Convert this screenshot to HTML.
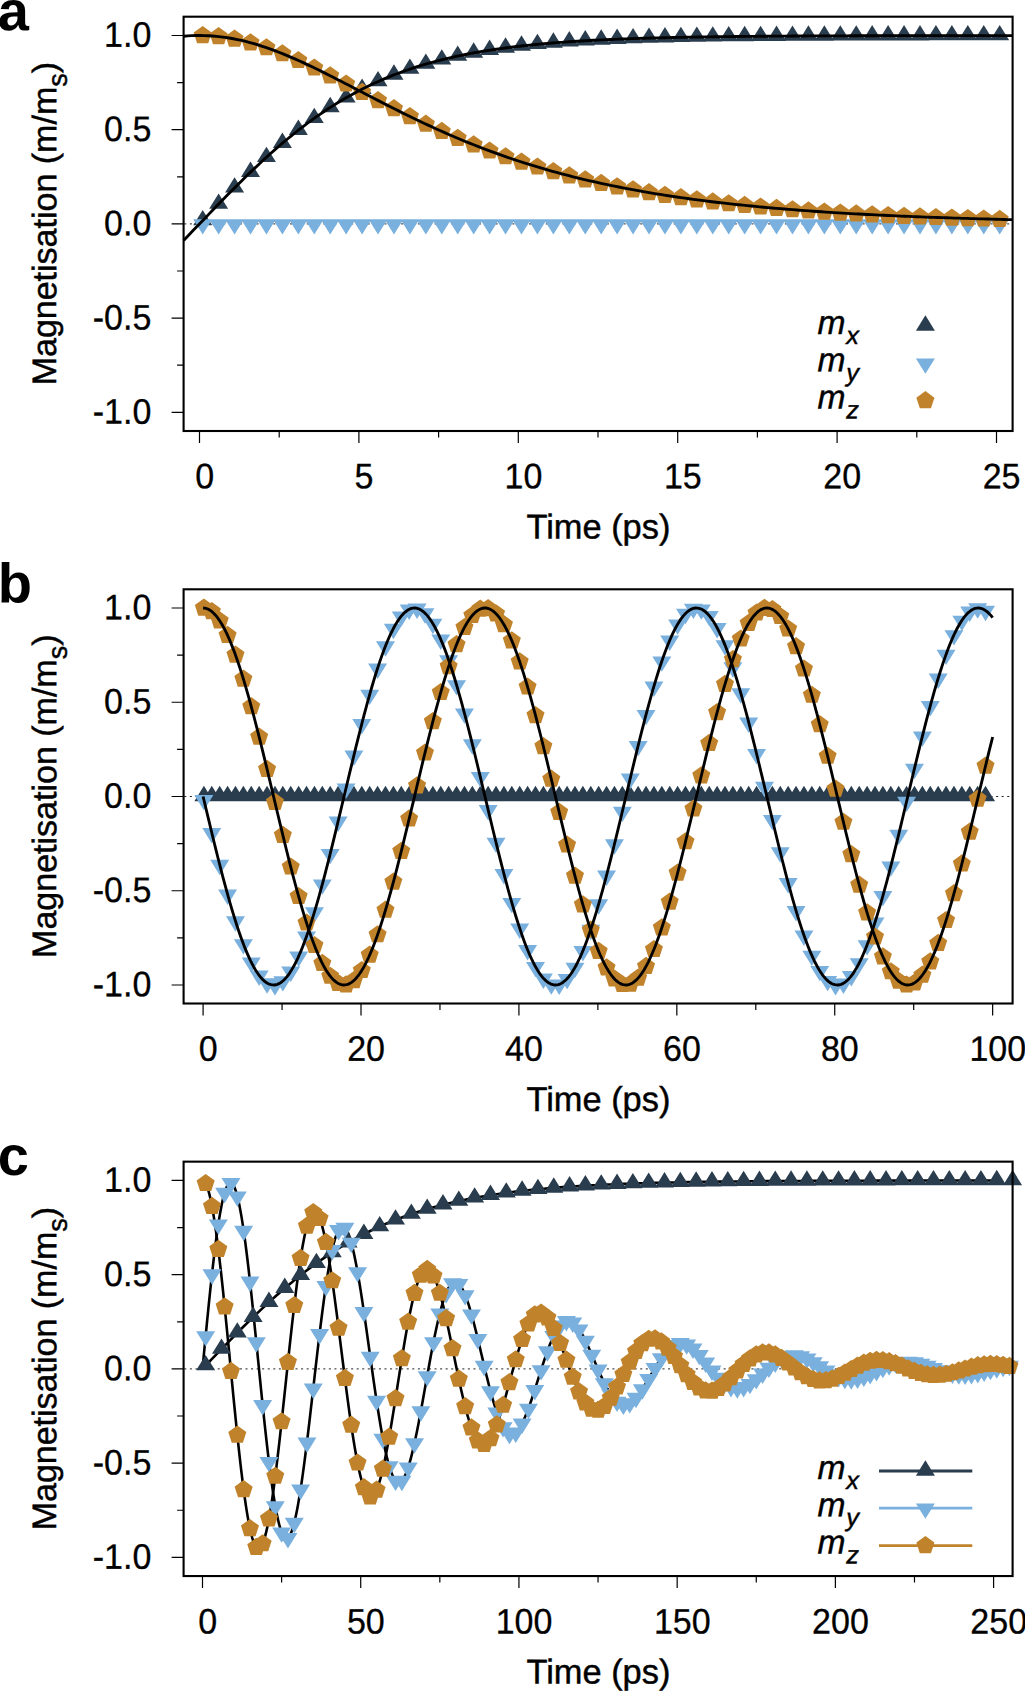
<!DOCTYPE html>
<html><head><meta charset="utf-8"><title>Magnetisation dynamics</title>
<style>html,body{margin:0;padding:0;background:#fff}svg{display:block;text-rendering:geometricPrecision;font-family:"Liberation Sans",Arial,Helvetica,sans-serif;font-size:34.4px;fill:#000;stroke:#000;stroke-width:0.45px}</style>
</head><body>
<svg width="1025" height="1691" viewBox="0 0 1025 1691">
<rect width="1025" height="1691" fill="#fff" stroke="none"/>
<g>
<path d="M1012.6 223.9H183.6" stroke="#222" stroke-width="1" stroke-dasharray="2.05 3.51" stroke-dashoffset="2.2" fill="none"/>
<path d="M202.69 209.94l-9.5 15.39h19zM218.63 193.44l-9.5 15.39h19zM234.57 177.23l-9.5 15.39h19zM250.51 161.57l-9.5 15.39h19zM266.45 146.63l-9.5 15.39h19zM282.39 132.6l-9.5 15.39h19zM298.33 119.58l-9.5 15.39h19zM314.27 107.66l-9.5 15.39h19zM330.21 96.85l-9.5 15.39h19zM346.15 87.15l-9.5 15.39h19zM362.09 78.53l-9.5 15.39h19zM378.03 70.93l-9.5 15.39h19zM393.97 64.27l-9.5 15.39h19zM409.91 58.48l-9.5 15.39h19zM425.85 53.46l-9.5 15.39h19zM441.79 49.15l-9.5 15.39h19zM457.73 45.44l-9.5 15.39h19zM473.67 42.27l-9.5 15.39h19zM489.61 39.57l-9.5 15.39h19zM505.55 37.28l-9.5 15.39h19zM521.49 35.33l-9.5 15.39h19zM537.43 33.68l-9.5 15.39h19zM553.37 32.28l-9.5 15.39h19zM569.31 31.11l-9.5 15.39h19zM585.25 30.11l-9.5 15.39h19zM601.19 29.27l-9.5 15.39h19zM617.13 28.57l-9.5 15.39h19zM633.07 27.97l-9.5 15.39h19zM649.01 27.48l-9.5 15.39h19zM664.95 27.06l-9.5 15.39h19zM680.89 26.7l-9.5 15.39h19zM696.83 26.41l-9.5 15.39h19zM712.77 26.16l-9.5 15.39h19zM728.71 25.95l-9.5 15.39h19zM744.65 25.77l-9.5 15.39h19zM760.59 25.63l-9.5 15.39h19zM776.53 25.5l-9.5 15.39h19zM792.47 25.4l-9.5 15.39h19zM808.41 25.31l-9.5 15.39h19zM824.35 25.24l-9.5 15.39h19zM840.29 25.18l-9.5 15.39h19zM856.23 25.13l-9.5 15.39h19zM872.17 25.08l-9.5 15.39h19zM888.11 25.05l-9.5 15.39h19zM904.05 25.02l-9.5 15.39h19zM919.99 24.99l-9.5 15.39h19zM935.93 24.97l-9.5 15.39h19zM951.87 24.95l-9.5 15.39h19zM967.81 24.94l-9.5 15.39h19zM983.75 24.93l-9.5 15.39h19zM999.69 24.91l-9.5 15.39h19z" fill="#2a3d4e" stroke="none"/>
<path d="M202.69 234.54l-9.5 -15.39h19zM218.63 234.54l-9.5 -15.39h19zM234.57 234.54l-9.5 -15.39h19zM250.51 234.54l-9.5 -15.39h19zM266.45 234.54l-9.5 -15.39h19zM282.39 234.54l-9.5 -15.39h19zM298.33 234.54l-9.5 -15.39h19zM314.27 234.54l-9.5 -15.39h19zM330.21 234.54l-9.5 -15.39h19zM346.15 234.54l-9.5 -15.39h19zM362.09 234.54l-9.5 -15.39h19zM378.03 234.54l-9.5 -15.39h19zM393.97 234.54l-9.5 -15.39h19zM409.91 234.54l-9.5 -15.39h19zM425.85 234.54l-9.5 -15.39h19zM441.79 234.54l-9.5 -15.39h19zM457.73 234.54l-9.5 -15.39h19zM473.67 234.54l-9.5 -15.39h19zM489.61 234.54l-9.5 -15.39h19zM505.55 234.54l-9.5 -15.39h19zM521.49 234.54l-9.5 -15.39h19zM537.43 234.54l-9.5 -15.39h19zM553.37 234.54l-9.5 -15.39h19zM569.31 234.54l-9.5 -15.39h19zM585.25 234.54l-9.5 -15.39h19zM601.19 234.54l-9.5 -15.39h19zM617.13 234.54l-9.5 -15.39h19zM633.07 234.54l-9.5 -15.39h19zM649.01 234.54l-9.5 -15.39h19zM664.95 234.54l-9.5 -15.39h19zM680.89 234.54l-9.5 -15.39h19zM696.83 234.54l-9.5 -15.39h19zM712.77 234.54l-9.5 -15.39h19zM728.71 234.54l-9.5 -15.39h19zM744.65 234.54l-9.5 -15.39h19zM760.59 234.54l-9.5 -15.39h19zM776.53 234.54l-9.5 -15.39h19zM792.47 234.54l-9.5 -15.39h19zM808.41 234.54l-9.5 -15.39h19zM824.35 234.54l-9.5 -15.39h19zM840.29 234.54l-9.5 -15.39h19zM856.23 234.54l-9.5 -15.39h19zM872.17 234.54l-9.5 -15.39h19zM888.11 234.54l-9.5 -15.39h19zM904.05 234.54l-9.5 -15.39h19zM919.99 234.54l-9.5 -15.39h19zM935.93 234.54l-9.5 -15.39h19zM951.87 234.54l-9.5 -15.39h19zM967.81 234.54l-9.5 -15.39h19zM983.75 234.54l-9.5 -15.39h19zM999.69 234.54l-9.5 -15.39h19z" fill="#7ab0de" stroke="none"/>
<path d="M202.69 26.03L211.72 32.59L208.27 43.21L197.1 43.21L193.65 32.59zM218.63 27.05L227.66 33.61L224.21 44.23L213.04 44.23L209.59 33.61zM234.57 29.48L243.6 36.04L240.15 46.66L228.98 46.66L225.53 36.04zM250.51 33.23L259.54 39.8L256.09 50.42L244.92 50.42L241.47 39.8zM266.45 38.17L275.48 44.74L272.03 55.36L260.86 55.36L257.41 44.74zM282.39 44.14L291.42 50.7L287.97 61.33L276.8 61.33L273.35 50.7zM298.33 50.94L307.36 57.5L303.91 68.12L292.74 68.12L289.29 57.5zM314.27 58.38L323.3 64.94L319.85 75.56L308.68 75.56L305.23 64.94zM330.21 66.27L339.24 72.83L335.79 83.45L324.62 83.45L321.17 72.83zM346.15 74.43L355.18 81L351.73 91.62L340.56 91.62L337.11 81zM362.09 82.71L371.12 89.27L367.67 99.9L356.5 99.9L353.05 89.27zM378.03 90.97L387.06 97.53L383.61 108.15L372.44 108.15L368.99 97.53zM393.97 99.09L403 105.65L399.55 116.27L388.38 116.27L384.93 105.65zM409.91 106.99L418.94 113.55L415.49 124.17L404.32 124.17L400.87 113.55zM425.85 114.6L434.88 121.16L431.43 131.79L420.26 131.79L416.81 121.16zM441.79 121.87L450.82 128.44L447.37 139.06L436.2 139.06L432.75 128.44zM457.73 128.78L466.76 135.34L463.31 145.96L452.14 145.96L448.69 135.34zM473.67 135.29L482.7 141.86L479.25 152.48L468.08 152.48L464.63 141.86zM489.61 141.41L498.64 147.98L495.19 158.6L484.02 158.6L480.57 147.98zM505.55 147.14L514.58 153.7L511.13 164.32L499.96 164.32L496.51 153.7zM521.49 152.47L530.52 159.04L527.07 169.66L515.9 169.66L512.45 159.04zM537.43 157.44L546.46 164L543.01 174.62L531.84 174.62L528.39 164zM553.37 162.04L562.4 168.6L558.95 179.22L547.78 179.22L544.33 168.6zM569.31 166.29L578.34 172.86L574.89 183.48L563.72 183.48L560.27 172.86zM585.25 170.23L594.28 176.79L590.83 187.41L579.66 187.41L576.21 176.79zM601.19 173.86L610.22 180.42L606.77 191.04L595.6 191.04L592.15 180.42zM617.13 177.2L626.16 183.77L622.71 194.39L611.54 194.39L608.09 183.77zM633.07 180.28L642.1 186.85L638.65 197.47L627.48 197.47L624.03 186.85zM649.01 183.11L658.04 189.68L654.59 200.3L643.42 200.3L639.97 189.68zM664.95 185.72L673.98 192.28L670.53 202.9L659.36 202.9L655.91 192.28zM680.89 188.11L689.92 194.67L686.47 205.3L675.3 205.3L671.85 194.67zM696.83 190.31L705.86 196.87L702.41 207.49L691.24 207.49L687.79 196.87zM712.77 192.32L721.8 198.88L718.35 209.51L707.18 209.51L703.73 198.88zM728.71 194.17L737.74 200.73L734.29 211.35L723.12 211.35L719.67 200.73zM744.65 195.86L753.68 202.43L750.23 213.05L739.06 213.05L735.61 202.43zM760.59 197.42L769.62 203.98L766.17 214.6L755 214.6L751.55 203.98zM776.53 198.84L785.56 205.41L782.11 216.03L770.94 216.03L767.49 205.41zM792.47 200.15L801.5 206.72L798.05 217.34L786.88 217.34L783.43 206.72zM808.41 201.35L817.44 207.91L813.99 218.53L802.82 218.53L799.37 207.91zM824.35 202.45L833.38 209.01L829.93 219.63L818.76 219.63L815.31 209.01zM840.29 203.45L849.32 210.02L845.87 220.64L834.7 220.64L831.25 210.02zM856.23 204.37L865.26 210.94L861.81 221.56L850.64 221.56L847.19 210.94zM872.17 205.22L881.2 211.78L877.75 222.4L866.58 222.4L863.13 211.78zM888.11 205.99L897.14 212.55L893.69 223.17L882.52 223.17L879.07 212.55zM904.05 206.7L913.08 213.26L909.63 223.88L898.46 223.88L895.01 213.26zM919.99 207.34L929.02 213.91L925.57 224.53L914.4 224.53L910.95 213.91zM935.93 207.94L944.96 214.5L941.51 225.12L930.34 225.12L926.89 214.5zM951.87 208.48L960.9 215.05L957.45 225.67L946.28 225.67L942.83 215.05zM967.81 208.98L976.84 215.55L973.39 226.17L962.22 226.17L958.77 215.55zM983.75 209.44L992.78 216L989.33 226.62L978.16 226.62L974.71 216zM999.69 209.86L1008.72 216.42L1005.27 227.04L994.1 227.04L990.65 216.42z" fill="#c0832b" stroke="none"/>
<path d="M183.56 240.44L187.7 236.15L191.85 231.85L195.99 227.55L200.14 223.24L204.28 218.93L208.43 214.62L212.57 210.33L216.72 206.05L220.86 201.79L225 197.55L229.15 193.34L233.29 189.15L237.44 185.01L241.58 180.9L245.73 176.84L249.87 172.82L254.01 168.85L258.16 164.94L262.3 161.08L266.45 157.27L270.59 153.53L274.74 149.86L278.88 146.24L283.03 142.7L287.17 139.23L291.31 135.82L295.46 132.49L299.6 129.23L303.75 126.04L307.89 122.93L312.04 119.9L316.18 116.94L320.33 114.06L324.47 111.25L328.61 108.52L332.76 105.86L336.9 103.28L341.05 100.77L345.19 98.34L349.34 95.98L353.48 93.69L357.62 91.48L361.77 89.33L365.91 87.26L370.06 85.25L374.2 83.3L378.35 81.43L382.49 79.61L386.64 77.86L390.78 76.17L394.92 74.54L399.07 72.97L403.21 71.45L407.36 69.99L411.5 68.58L415.65 67.23L419.79 65.92L423.94 64.67L428.08 63.46L432.22 62.3L436.37 61.18L440.51 60.11L444.66 59.08L448.8 58.08L452.95 57.13L457.09 56.22L461.23 55.34L465.38 54.5L469.52 53.69L473.67 52.91L477.81 52.17L481.96 51.45L486.1 50.77L490.25 50.11L494.39 49.48L498.53 48.88L502.68 48.3L506.82 47.75L510.97 47.22L515.11 46.71L519.26 46.22L523.4 45.76L527.55 45.31L531.69 44.88L535.83 44.47L539.98 44.08L544.12 43.7L548.27 43.34L552.41 43L556.56 42.67L560.7 42.36L564.84 42.06L568.99 41.77L573.13 41.49L577.28 41.23L581.42 40.97L585.57 40.73L589.71 40.5L593.86 40.28L598 40.07L602.14 39.87L606.29 39.67L610.43 39.49L614.58 39.31L618.72 39.14L622.87 38.98L627.01 38.83L631.16 38.68L635.3 38.54L639.44 38.4L643.59 38.28L647.73 38.15L651.88 38.03L656.02 37.92L660.17 37.81L664.31 37.71L668.45 37.61L672.6 37.52L676.74 37.43L680.89 37.34L685.03 37.26L689.18 37.18L693.32 37.11L697.47 37.04L701.61 36.97L705.75 36.9L709.9 36.84L714.04 36.78L718.19 36.72L722.33 36.67L726.48 36.62L730.62 36.57L734.77 36.52L738.91 36.47L743.05 36.43L747.2 36.39L751.34 36.35L755.49 36.31L759.63 36.27L763.78 36.24L767.92 36.21L772.06 36.18L776.21 36.15L780.35 36.12L784.5 36.09L788.64 36.06L792.79 36.04L796.93 36.01L801.08 35.99L805.22 35.97L809.36 35.95L813.51 35.93L817.65 35.91L821.8 35.89L825.94 35.87L830.09 35.86L834.23 35.84L838.38 35.83L842.52 35.81L846.66 35.8L850.81 35.78L854.95 35.77L859.1 35.76L863.24 35.75L867.39 35.74L871.53 35.73L875.67 35.72L879.82 35.71L883.96 35.7L888.11 35.69L892.25 35.68L896.4 35.67L900.54 35.66L904.69 35.66L908.83 35.65L912.97 35.64L917.12 35.64L921.26 35.63L925.41 35.62L929.55 35.62L933.7 35.61L937.84 35.61L941.99 35.6L946.13 35.6L950.27 35.59L954.42 35.59L958.56 35.59L962.71 35.58L966.85 35.58L971 35.58L975.14 35.57L979.28 35.57L983.43 35.57L987.57 35.56L991.72 35.56L995.86 35.56L1000.01 35.55L1004.15 35.55L1008.3 35.55L1012.44 35.55" fill="none" stroke="#000" stroke-width="2.85" stroke-linejoin="round"/>
<path d="M183.56 36.23L187.7 35.9L191.85 35.67L195.99 35.54L200.14 35.5L204.28 35.57L208.43 35.73L212.57 35.99L216.72 36.35L220.86 36.8L225 37.35L229.15 38L233.29 38.73L237.44 39.56L241.58 40.47L245.73 41.47L249.87 42.56L254.01 43.72L258.16 44.96L262.3 46.28L266.45 47.67L270.59 49.13L274.74 50.66L278.88 52.25L283.03 53.9L287.17 55.6L291.31 57.36L295.46 59.16L299.6 61.01L303.75 62.91L307.89 64.84L312.04 66.81L316.18 68.81L320.33 70.83L324.47 72.89L328.61 74.97L332.76 77.06L336.9 79.17L341.05 81.3L345.19 83.44L349.34 85.58L353.48 87.73L357.62 89.89L361.77 92.04L365.91 94.2L370.06 96.35L374.2 98.49L378.35 100.63L382.49 102.76L386.64 104.87L390.78 106.98L394.92 109.07L399.07 111.14L403.21 113.2L407.36 115.24L411.5 117.26L415.65 119.27L419.79 121.25L423.94 123.2L428.08 125.14L432.22 127.05L436.37 128.94L440.51 130.81L444.66 132.64L448.8 134.46L452.95 136.25L457.09 138.01L461.23 139.74L465.38 141.45L469.52 143.14L473.67 144.79L477.81 146.42L481.96 148.02L486.1 149.6L490.25 151.15L494.39 152.67L498.53 154.17L502.68 155.64L506.82 157.08L510.97 158.49L515.11 159.89L519.26 161.25L523.4 162.59L527.55 163.9L531.69 165.19L535.83 166.46L539.98 167.7L544.12 168.91L548.27 170.1L552.41 171.27L556.56 172.41L560.7 173.54L564.84 174.64L568.99 175.71L573.13 176.77L577.28 177.8L581.42 178.81L585.57 179.8L589.71 180.77L593.86 181.73L598 182.66L602.14 183.57L606.29 184.46L610.43 185.33L614.58 186.19L618.72 187.02L622.87 187.84L627.01 188.64L631.16 189.43L635.3 190.19L639.44 190.94L643.59 191.68L647.73 192.4L651.88 193.1L656.02 193.79L660.17 194.46L664.31 195.12L668.45 195.76L672.6 196.39L676.74 197.01L680.89 197.61L685.03 198.2L689.18 198.77L693.32 199.34L697.47 199.89L701.61 200.43L705.75 200.95L709.9 201.47L714.04 201.97L718.19 202.47L722.33 202.95L726.48 203.42L730.62 203.88L734.77 204.33L738.91 204.77L743.05 205.2L747.2 205.62L751.34 206.03L755.49 206.44L759.63 206.83L763.78 207.21L767.92 207.59L772.06 207.96L776.21 208.32L780.35 208.67L784.5 209.01L788.64 209.35L792.79 209.68L796.93 210L801.08 210.31L805.22 210.62L809.36 210.92L813.51 211.21L817.65 211.5L821.8 211.78L825.94 212.05L830.09 212.32L834.23 212.58L838.38 212.83L842.52 213.08L846.66 213.33L850.81 213.57L854.95 213.8L859.1 214.03L863.24 214.25L867.39 214.47L871.53 214.68L875.67 214.89L879.82 215.09L883.96 215.29L888.11 215.49L892.25 215.68L896.4 215.86L900.54 216.05L904.69 216.22L908.83 216.4L912.97 216.57L917.12 216.73L921.26 216.89L925.41 217.05L929.55 217.21L933.7 217.36L937.84 217.51L941.99 217.65L946.13 217.79L950.27 217.93L954.42 218.07L958.56 218.2L962.71 218.33L966.85 218.45L971 218.58L975.14 218.7L979.28 218.81L983.43 218.93L987.57 219.04L991.72 219.15L995.86 219.26L1000.01 219.36L1004.15 219.47L1008.3 219.57L1012.44 219.66" fill="none" stroke="#000" stroke-width="2.85" stroke-linejoin="round"/>
<rect x="183.6" y="16.7" width="829" height="414.3" fill="none" stroke="#000" stroke-width="2.1"/>
<path d="M183.6 35.5h-12M183.6 129.7h-12M183.6 223.9h-12M183.6 318.1h-12M183.6 412.3h-12M183.6 82.6h-6.5M183.6 176.8h-6.5M183.6 271h-6.5M183.6 365.2h-6.5M199.5 431v12M358.9 431v12M518.3 431v12M677.7 431v12M837.1 431v12M996.5 431v12M279.2 431v6.5M438.6 431v6.5M598 431v6.5M757.4 431v6.5M916.8 431v6.5" stroke="#000" stroke-width="1.2" fill="none"/>
<text transform="translate(151.3 46.85) rotate(0.05) scale(1 1.04)" font-size="34" stroke-width="0.3" text-anchor="end">1.0</text>
<text transform="translate(151.3 141.05) rotate(0.05) scale(1 1.04)" font-size="34" stroke-width="0.3" text-anchor="end">0.5</text>
<text transform="translate(151.3 235.25) rotate(0.05) scale(1 1.04)" font-size="34" stroke-width="0.3" text-anchor="end">0.0</text>
<text transform="translate(151.3 329.45) rotate(0.05) scale(1 1.04)" font-size="34" stroke-width="0.3" text-anchor="end">-0.5</text>
<text transform="translate(151.3 423.65) rotate(0.05) scale(1 1.04)" font-size="34" stroke-width="0.3" text-anchor="end">-1.0</text>
<text transform="translate(204.6 488.36) rotate(0.05) scale(1 1.04)" font-size="34" stroke-width="0.3" text-anchor="middle">0</text>
<text transform="translate(364 488.36) rotate(0.05) scale(1 1.04)" font-size="34" stroke-width="0.3" text-anchor="middle">5</text>
<text transform="translate(523.4 488.36) rotate(0.05) scale(1 1.04)" font-size="34" stroke-width="0.3" text-anchor="middle">10</text>
<text transform="translate(682.8 488.36) rotate(0.05) scale(1 1.04)" font-size="34" stroke-width="0.3" text-anchor="middle">15</text>
<text transform="translate(842.2 488.36) rotate(0.05) scale(1 1.04)" font-size="34" stroke-width="0.3" text-anchor="middle">20</text>
<text transform="translate(1001.6 488.36) rotate(0.05) scale(1 1.04)" font-size="34" stroke-width="0.3" text-anchor="middle">25</text>
<text transform="translate(598.4 538.5) rotate(0.05)" text-anchor="middle">Time (ps)</text>
<text transform="translate(56.2 223.6) rotate(-89.95)" font-size="34" text-anchor="middle">Magnetisation (m/m<tspan font-size="27.2" dy="10.4">s</tspan><tspan font-size="34" dy="-10.4">)</tspan></text>
<text transform="translate(-2.2 30.2) rotate(0.05)" font-size="56" font-weight="bold" stroke="none">a</text>
<path d="M925.4 315.36l-9.5 15.39h19z" fill="#2a3d4e" stroke="none"/>
<text transform="translate(817.6 334) rotate(0.05)" font-size="33.6" font-style="italic">m<tspan font-size="25.3" dx="0.6" dy="9.9">x</tspan></text>
<path d="M925.4 373.84l-9.5 -15.39h19z" fill="#7ab0de" stroke="none"/>
<text transform="translate(817.6 371.2) rotate(0.05)" font-size="33.6" font-style="italic">m<tspan font-size="25.3" dx="0.6" dy="9.9">y</tspan></text>
<path d="M925.4 391.1L934.44 397.66L930.98 408.29L919.82 408.29L916.36 397.66z" fill="#c0832b" stroke="none"/>
<text transform="translate(817.6 408.6) rotate(0.05)" font-size="33.6" font-style="italic">m<tspan font-size="25.3" dx="0.6" dy="9.9">z</tspan></text>
</g>
<g>
<path d="M1012.6 796.5H183.6" stroke="#222" stroke-width="1" stroke-dasharray="2.05 3.51" stroke-dashoffset="2.2" fill="none"/>
<path d="M203.89 785.86l-9.5 15.39h19zM211.79 785.86l-9.5 15.39h19zM219.68 785.86l-9.5 15.39h19zM227.58 785.86l-9.5 15.39h19zM235.47 785.86l-9.5 15.39h19zM243.37 785.86l-9.5 15.39h19zM251.26 785.86l-9.5 15.39h19zM259.16 785.86l-9.5 15.39h19zM267.05 785.86l-9.5 15.39h19zM274.95 785.86l-9.5 15.39h19zM282.84 785.86l-9.5 15.39h19zM290.74 785.86l-9.5 15.39h19zM298.64 785.86l-9.5 15.39h19zM306.53 785.86l-9.5 15.39h19zM314.43 785.86l-9.5 15.39h19zM322.32 785.86l-9.5 15.39h19zM330.22 785.86l-9.5 15.39h19zM338.11 785.86l-9.5 15.39h19zM346.01 785.86l-9.5 15.39h19zM353.9 785.86l-9.5 15.39h19zM361.8 785.86l-9.5 15.39h19zM369.7 785.86l-9.5 15.39h19zM377.59 785.86l-9.5 15.39h19zM385.49 785.86l-9.5 15.39h19zM393.38 785.86l-9.5 15.39h19zM401.28 785.86l-9.5 15.39h19zM409.17 785.86l-9.5 15.39h19zM417.07 785.86l-9.5 15.39h19zM424.96 785.86l-9.5 15.39h19zM432.86 785.86l-9.5 15.39h19zM440.75 785.86l-9.5 15.39h19zM448.65 785.86l-9.5 15.39h19zM456.55 785.86l-9.5 15.39h19zM464.44 785.86l-9.5 15.39h19zM472.34 785.86l-9.5 15.39h19zM480.23 785.86l-9.5 15.39h19zM488.13 785.86l-9.5 15.39h19zM496.02 785.86l-9.5 15.39h19zM503.92 785.86l-9.5 15.39h19zM511.81 785.86l-9.5 15.39h19zM519.71 785.86l-9.5 15.39h19zM527.61 785.86l-9.5 15.39h19zM535.5 785.86l-9.5 15.39h19zM543.4 785.86l-9.5 15.39h19zM551.29 785.86l-9.5 15.39h19zM559.19 785.86l-9.5 15.39h19zM567.08 785.86l-9.5 15.39h19zM574.98 785.86l-9.5 15.39h19zM582.87 785.86l-9.5 15.39h19zM590.77 785.86l-9.5 15.39h19zM598.66 785.86l-9.5 15.39h19zM606.56 785.86l-9.5 15.39h19zM614.46 785.86l-9.5 15.39h19zM622.35 785.86l-9.5 15.39h19zM630.25 785.86l-9.5 15.39h19zM638.14 785.86l-9.5 15.39h19zM646.04 785.86l-9.5 15.39h19zM653.93 785.86l-9.5 15.39h19zM661.83 785.86l-9.5 15.39h19zM669.72 785.86l-9.5 15.39h19zM677.62 785.86l-9.5 15.39h19zM685.52 785.86l-9.5 15.39h19zM693.41 785.86l-9.5 15.39h19zM701.31 785.86l-9.5 15.39h19zM709.2 785.86l-9.5 15.39h19zM717.1 785.86l-9.5 15.39h19zM724.99 785.86l-9.5 15.39h19zM732.89 785.86l-9.5 15.39h19zM740.78 785.86l-9.5 15.39h19zM748.68 785.86l-9.5 15.39h19zM756.57 785.86l-9.5 15.39h19zM764.47 785.86l-9.5 15.39h19zM772.37 785.86l-9.5 15.39h19zM780.26 785.86l-9.5 15.39h19zM788.16 785.86l-9.5 15.39h19zM796.05 785.86l-9.5 15.39h19zM803.95 785.86l-9.5 15.39h19zM811.84 785.86l-9.5 15.39h19zM819.74 785.86l-9.5 15.39h19zM827.63 785.86l-9.5 15.39h19zM835.53 785.86l-9.5 15.39h19zM843.43 785.86l-9.5 15.39h19zM851.32 785.86l-9.5 15.39h19zM859.22 785.86l-9.5 15.39h19zM867.11 785.86l-9.5 15.39h19zM875.01 785.86l-9.5 15.39h19zM882.9 785.86l-9.5 15.39h19zM890.8 785.86l-9.5 15.39h19zM898.69 785.86l-9.5 15.39h19zM906.59 785.86l-9.5 15.39h19zM914.48 785.86l-9.5 15.39h19zM922.38 785.86l-9.5 15.39h19zM930.28 785.86l-9.5 15.39h19zM938.17 785.86l-9.5 15.39h19zM946.07 785.86l-9.5 15.39h19zM953.96 785.86l-9.5 15.39h19zM961.86 785.86l-9.5 15.39h19zM969.75 785.86l-9.5 15.39h19zM977.65 785.86l-9.5 15.39h19zM985.54 785.86l-9.5 15.39h19z" fill="#2a3d4e" stroke="none"/>
<path d="M203.89 810.46l-9.5 -15.39h19zM211.79 843.41l-9.5 -15.39h19zM219.68 875.23l-9.5 -15.39h19zM227.58 904.96l-9.5 -15.39h19zM235.47 931.66l-9.5 -15.39h19zM243.37 954.52l-9.5 -15.39h19zM251.26 972.82l-9.5 -15.39h19zM259.16 986l-9.5 -15.39h19zM267.05 993.66l-9.5 -15.39h19zM274.95 995.55l-9.5 -15.39h19zM282.84 991.62l-9.5 -15.39h19zM290.74 982l-9.5 -15.39h19zM298.64 966.97l-9.5 -15.39h19zM306.53 947l-9.5 -15.39h19zM314.43 922.71l-9.5 -15.39h19zM322.32 894.85l-9.5 -15.39h19zM330.22 864.28l-9.5 -15.39h19zM338.11 831.95l-9.5 -15.39h19zM346.01 798.85l-9.5 -15.39h19zM353.9 766l-9.5 -15.39h19zM361.8 734.43l-9.5 -15.39h19zM369.7 705.1l-9.5 -15.39h19zM377.59 678.93l-9.5 -15.39h19zM385.49 656.71l-9.5 -15.39h19zM393.38 639.15l-9.5 -15.39h19zM401.28 626.77l-9.5 -15.39h19zM409.17 619.97l-9.5 -15.39h19zM417.07 618.95l-9.5 -15.39h19zM424.96 623.74l-9.5 -15.39h19zM432.86 634.2l-9.5 -15.39h19zM440.75 650.01l-9.5 -15.39h19zM448.65 670.67l-9.5 -15.39h19zM456.55 695.54l-9.5 -15.39h19zM464.44 723.86l-9.5 -15.39h19zM472.34 754.76l-9.5 -15.39h19zM480.23 787.27l-9.5 -15.39h19zM488.13 820.4l-9.5 -15.39h19zM496.02 853.12l-9.5 -15.39h19zM503.92 884.42l-9.5 -15.39h19zM511.81 913.33l-9.5 -15.39h19zM519.71 938.96l-9.5 -15.39h19zM527.61 960.51l-9.5 -15.39h19zM535.5 977.33l-9.5 -15.39h19zM543.4 988.89l-9.5 -15.39h19zM551.29 994.84l-9.5 -15.39h19zM559.19 994.98l-9.5 -15.39h19zM567.08 989.32l-9.5 -15.39h19zM574.98 978.04l-9.5 -15.39h19zM582.87 961.47l-9.5 -15.39h19zM590.77 940.13l-9.5 -15.39h19zM598.66 914.69l-9.5 -15.39h19zM606.56 885.92l-9.5 -15.39h19zM614.46 854.72l-9.5 -15.39h19zM622.35 822.05l-9.5 -15.39h19zM630.25 788.92l-9.5 -15.39h19zM638.14 756.35l-9.5 -15.39h19zM646.04 725.35l-9.5 -15.39h19zM653.93 696.88l-9.5 -15.39h19zM661.83 671.81l-9.5 -15.39h19zM669.72 650.93l-9.5 -15.39h19zM677.62 634.87l-9.5 -15.39h19zM685.52 624.13l-9.5 -15.39h19zM693.41 619.05l-9.5 -15.39h19zM701.31 619.78l-9.5 -15.39h19zM709.2 626.3l-9.5 -15.39h19zM717.1 638.4l-9.5 -15.39h19zM724.99 655.72l-9.5 -15.39h19zM732.89 677.72l-9.5 -15.39h19zM740.78 703.72l-9.5 -15.39h19zM748.68 732.91l-9.5 -15.39h19zM756.57 764.39l-9.5 -15.39h19zM764.47 797.2l-9.5 -15.39h19zM772.37 830.31l-9.5 -15.39h19zM780.26 862.71l-9.5 -15.39h19zM788.16 893.39l-9.5 -15.39h19zM796.05 921.4l-9.5 -15.39h19zM803.95 945.89l-9.5 -15.39h19zM811.84 966.09l-9.5 -15.39h19zM819.74 981.37l-9.5 -15.39h19zM827.63 991.28l-9.5 -15.39h19zM835.53 995.49l-9.5 -15.39h19zM843.43 993.89l-9.5 -15.39h19zM851.32 986.51l-9.5 -15.39h19zM859.22 973.6l-9.5 -15.39h19zM867.11 955.54l-9.5 -15.39h19zM875.01 932.9l-9.5 -15.39h19zM882.9 906.37l-9.5 -15.39h19zM890.8 876.77l-9.5 -15.39h19zM898.69 845.03l-9.5 -15.39h19zM906.59 812.11l-9.5 -15.39h19zM914.48 779.04l-9.5 -15.39h19zM922.38 746.84l-9.5 -15.39h19zM930.28 716.5l-9.5 -15.39h19zM938.17 688.96l-9.5 -15.39h19zM946.07 665.07l-9.5 -15.39h19zM953.96 645.57l-9.5 -15.39h19zM961.86 631.07l-9.5 -15.39h19zM969.75 622l-9.5 -15.39h19zM977.65 618.66l-9.5 -15.39h19zM985.54 621.13l-9.5 -15.39h19z" fill="#7ab0de" stroke="none"/>
<path d="M203.89 598.53L212.92 605.09L209.47 615.71L198.31 615.71L194.85 605.09zM211.79 602.02L220.82 608.59L217.37 619.21L206.2 619.21L202.75 608.59zM219.68 611.23L228.72 617.79L225.26 628.41L214.1 628.41L210.65 617.79zM227.58 625.87L236.61 632.43L233.16 643.05L221.99 643.05L218.54 632.43zM235.47 645.48L244.51 652.05L241.06 662.67L229.89 662.67L226.44 652.05zM243.37 669.47L252.4 676.04L248.95 686.66L237.78 686.66L234.33 676.04zM251.26 697.09L260.3 703.66L256.85 714.28L245.68 714.28L242.23 703.66zM259.16 727.49L268.19 734.05L264.74 744.68L253.57 744.68L250.12 734.05zM267.05 759.73L276.09 766.29L272.64 776.91L261.47 776.91L258.02 766.29zM274.95 792.81L283.98 799.37L280.53 809.99L269.37 809.99L265.91 799.37zM282.84 825.71L291.88 832.27L288.43 842.89L277.26 842.89L273.81 832.27zM290.74 857.41L299.78 863.97L296.32 874.59L285.16 874.59L281.71 863.97zM298.64 886.94L307.67 893.5L304.22 904.12L293.05 904.12L289.6 893.5zM306.53 913.38L315.57 919.94L312.12 930.56L300.95 930.56L297.5 919.94zM314.43 935.91L323.46 942.48L320.01 953.1L308.84 953.1L305.39 942.48zM322.32 953.85L331.36 960.41L327.91 971.04L316.74 971.04L313.29 960.41zM330.22 966.63L339.25 973.19L335.8 983.82L324.63 983.82L321.18 973.19zM338.11 973.86L347.15 980.42L343.7 991.05L332.53 991.05L329.08 980.42zM346.01 975.32L355.04 981.88L351.59 992.5L340.42 992.5L336.97 981.88zM353.9 970.96L362.94 977.52L359.49 988.14L348.32 988.14L344.87 977.52zM361.8 960.91L370.83 967.48L367.38 978.1L356.22 978.1L352.76 967.48zM369.7 945.49L378.73 952.06L375.28 962.68L364.11 962.68L360.66 952.06zM377.59 925.18L386.63 931.74L383.17 942.36L372.01 942.36L368.56 931.74zM385.49 900.6L394.52 907.16L391.07 917.78L379.9 917.78L376.45 907.16zM393.38 872.5L402.42 879.07L398.97 889.69L387.8 889.69L384.35 879.07zM401.28 841.77L410.31 848.33L406.86 858.95L395.69 858.95L392.24 848.33zM409.17 809.34L418.21 815.9L414.76 826.52L403.59 826.52L400.14 815.9zM417.07 776.22L426.1 782.79L422.65 793.41L411.48 793.41L408.03 782.79zM424.96 743.44L434 750L430.55 760.62L419.38 760.62L415.93 750zM432.86 712L441.89 718.56L438.44 729.18L427.28 729.18L423.82 718.56zM440.75 682.88L449.79 689.44L446.34 700.06L435.17 700.06L431.72 689.44zM448.65 656.97L457.69 663.54L454.23 674.16L443.07 674.16L439.62 663.54zM456.55 635.09L465.58 641.65L462.13 652.27L450.96 652.27L447.51 641.65zM464.44 617.89L473.48 624.46L470.03 635.08L458.86 635.08L455.41 624.46zM472.34 605.92L481.37 612.49L477.92 623.11L466.75 623.11L463.3 612.49zM480.23 599.55L489.27 606.11L485.82 616.74L474.65 616.74L471.2 606.11zM488.13 598.97L497.16 605.53L493.71 616.15L482.54 616.15L479.09 605.53zM496.02 604.19L505.06 610.76L501.61 621.38L490.44 621.38L486.99 610.76zM503.92 615.07L512.95 621.63L509.5 632.25L498.33 632.25L494.88 621.63zM511.81 631.26L520.85 637.82L517.4 648.44L506.23 648.44L502.78 637.82zM519.71 652.25L528.74 658.82L525.29 669.44L514.13 669.44L510.67 658.82zM527.61 677.42L536.64 683.98L533.19 694.6L522.02 694.6L518.57 683.98zM535.5 705.96L544.54 712.53L541.08 723.15L529.92 723.15L526.47 712.53zM543.4 737.02L552.43 743.58L548.98 754.2L537.81 754.2L534.36 743.58zM551.29 769.61L560.33 776.18L556.88 786.8L545.71 786.8L542.26 776.18zM559.19 802.74L568.22 809.31L564.77 819.93L553.6 819.93L550.15 809.31zM567.08 835.39L576.12 841.95L572.67 852.58L561.5 852.58L558.05 841.95zM574.98 866.54L584.01 873.11L580.56 883.73L569.39 883.73L565.94 873.11zM582.87 895.24L591.91 901.8L588.46 912.42L577.29 912.42L573.84 901.8zM590.77 920.59L599.8 927.15L596.35 937.77L585.19 937.77L581.73 927.15zM598.66 941.81L607.7 948.37L604.25 958.99L593.08 958.99L589.63 948.37zM606.56 958.25L615.6 964.81L612.14 975.43L600.98 975.43L597.53 964.81zM614.46 969.4L623.49 975.96L620.04 986.58L608.87 986.58L605.42 975.96zM622.35 974.91L631.39 981.47L627.94 992.1L616.77 992.1L613.32 981.47zM630.25 974.62L639.28 981.18L635.83 991.8L624.66 991.8L621.21 981.18zM638.14 968.53L647.18 975.09L643.73 985.71L632.56 985.71L629.11 975.09zM646.04 956.83L655.07 963.4L651.62 974.02L640.45 974.02L637 963.4zM653.93 939.89L662.97 946.45L659.52 957.07L648.35 957.07L644.9 946.45zM661.83 918.22L670.86 924.78L667.41 935.4L656.24 935.4L652.79 924.78zM669.72 892.5L678.76 899.06L675.31 909.68L664.14 909.68L660.69 899.06zM677.62 863.51L686.65 870.08L683.2 880.7L672.04 880.7L668.58 870.08zM685.52 832.17L694.55 838.73L691.1 849.35L679.93 849.35L676.48 838.73zM693.41 799.43L702.45 805.99L698.99 816.61L687.83 816.61L684.38 805.99zM701.31 766.3L710.34 772.87L706.89 783.49L695.72 783.49L692.27 772.87zM709.2 733.82L718.24 740.38L714.79 751L703.62 751L700.17 740.38zM717.1 702.97L726.13 709.54L722.68 720.16L711.51 720.16L708.06 709.54zM724.99 674.73L734.03 681.29L730.58 691.91L719.41 691.91L715.96 681.29zM732.89 649.95L741.92 656.51L738.47 667.14L727.3 667.14L723.85 656.51zM740.78 629.41L749.82 635.97L746.37 646.59L735.2 646.59L731.75 635.97zM748.68 613.73L757.71 620.3L754.26 630.92L743.1 630.92L739.64 620.3zM756.57 603.41L765.61 609.98L762.16 620.6L750.99 620.6L747.54 609.98zM764.47 598.76L773.51 605.33L770.05 615.95L758.89 615.95L755.44 605.33zM772.37 599.93L781.4 606.49L777.95 617.12L766.78 617.12L763.33 606.49zM780.26 606.88L789.3 613.44L785.85 624.06L774.68 624.06L771.23 613.44zM788.16 619.39L797.19 625.95L793.74 636.57L782.57 636.57L779.12 625.95zM796.05 637.08L805.09 643.64L801.64 654.26L790.47 654.26L787.02 643.64zM803.95 659.4L812.98 665.97L809.53 676.59L798.36 676.59L794.91 665.97zM811.84 685.67L820.88 692.23L817.43 702.85L806.26 702.85L802.81 692.23zM819.74 715.06L828.77 721.63L825.32 732.25L814.15 732.25L810.7 721.63zM827.63 746.68L836.67 753.24L833.22 763.87L822.05 763.87L818.6 753.24zM835.53 779.54L844.56 786.11L841.11 796.73L829.95 796.73L826.49 786.11zM843.43 812.64L852.46 819.2L849.01 829.82L837.84 829.82L834.39 819.2zM851.32 844.94L860.36 851.5L856.9 862.13L845.74 862.13L842.29 851.5zM859.22 875.45L868.25 882.02L864.8 892.64L853.63 892.64L850.18 882.02zM867.11 903.23L876.15 909.8L872.7 920.42L861.53 920.42L858.08 909.8zM875.01 927.42L884.04 933.98L880.59 944.61L869.42 944.61L865.97 933.98zM882.9 947.27L891.94 953.83L888.49 964.46L877.32 964.46L873.87 953.83zM890.8 962.17L899.83 968.73L896.38 979.35L885.21 979.35L881.76 968.73zM898.69 971.65L907.73 978.22L904.28 988.84L893.11 988.84L889.66 978.22zM906.59 975.43L915.62 982L912.17 992.62L901.01 992.62L897.55 982zM914.48 973.39L923.52 979.96L920.07 990.58L908.9 990.58L905.45 979.96zM922.38 965.59L931.42 972.16L927.96 982.78L916.8 982.78L913.35 972.16zM930.28 952.28L939.31 958.84L935.86 969.46L924.69 969.46L921.24 958.84zM938.17 933.85L947.21 940.42L943.76 951.04L932.59 951.04L929.14 940.42zM946.07 910.89L955.1 917.46L951.65 928.08L940.48 928.08L937.03 917.46zM953.96 884.1L963 890.67L959.55 901.29L948.38 901.29L944.93 890.67zM961.86 854.31L970.89 860.88L967.44 871.5L956.27 871.5L952.82 860.88zM969.75 822.44L978.79 829.01L975.34 839.63L964.17 839.63L960.72 829.01zM977.65 789.48L986.68 796.04L983.23 806.67L972.06 806.67L968.61 796.04zM985.54 756.44L994.58 763L991.13 773.63L979.96 773.63L976.51 763z" fill="#c0832b" stroke="none"/>
<path d="M203.1 796.5L204.68 803.13L206.26 809.76L207.84 816.37L209.42 822.95L211 829.5L212.57 836.02L214.15 842.48L215.73 848.88L217.31 855.22L218.89 861.49L220.47 867.68L222.05 873.78L223.63 879.78L225.21 885.68L226.79 891.47L228.37 897.14L229.94 902.69L231.52 908.1L233.1 913.38L234.68 918.51L236.26 923.49L237.84 928.32L239.42 932.98L241 937.47L242.58 941.78L244.16 945.92L245.74 949.87L247.31 953.63L248.89 957.2L250.47 960.57L252.05 963.73L253.63 966.69L255.21 969.44L256.79 971.97L258.37 974.28L259.95 976.38L261.53 978.25L263.11 979.9L264.68 981.32L266.26 982.51L267.84 983.47L269.42 984.2L271 984.69L272.58 984.95L274.16 984.98L275.74 984.78L277.32 984.34L278.9 983.67L280.48 982.77L282.06 981.64L283.63 980.27L285.21 978.68L286.79 976.87L288.37 974.83L289.95 972.57L291.53 970.09L293.11 967.4L294.69 964.49L296.27 961.38L297.85 958.06L299.43 954.54L301 950.83L302.58 946.93L304.16 942.83L305.74 938.56L307.32 934.11L308.9 929.5L310.48 924.71L312.06 919.77L313.64 914.67L315.22 909.43L316.8 904.05L318.37 898.54L319.95 892.9L321.53 887.14L323.11 881.26L324.69 875.28L326.27 869.21L327.85 863.04L329.43 856.8L331.01 850.47L332.59 844.08L334.17 837.63L335.74 831.14L337.32 824.59L338.9 818.02L340.48 811.41L342.06 804.79L343.64 798.16L345.22 791.52L346.8 784.89L348.38 778.28L349.96 771.69L351.54 765.13L353.11 758.61L354.69 752.13L356.27 745.71L357.85 739.35L359.43 733.07L361.01 726.86L362.59 720.74L364.17 714.71L365.75 708.79L367.33 702.97L368.91 697.27L370.48 691.69L372.06 686.24L373.64 680.93L375.22 675.76L376.8 670.74L378.38 665.87L379.96 661.17L381.54 656.64L383.12 652.28L384.7 648.1L386.28 644.1L387.85 640.29L389.43 636.67L391.01 633.25L392.59 630.04L394.17 627.03L395.75 624.23L397.33 621.64L398.91 619.27L400.49 617.12L402.07 615.2L403.65 613.49L405.22 612.02L406.8 610.77L408.38 609.75L409.96 608.96L411.54 608.41L413.12 608.09L414.7 608L416.28 608.15L417.86 608.53L419.44 609.14L421.02 609.98L422.59 611.06L424.17 612.36L425.75 613.9L427.33 615.66L428.91 617.64L430.49 619.85L432.07 622.27L433.65 624.91L435.23 627.76L436.81 630.82L438.39 634.09L439.97 637.56L441.54 641.22L443.12 645.08L444.7 649.13L446.28 653.35L447.86 657.76L449.44 662.34L451.02 667.08L452.6 671.98L454.18 677.04L455.76 682.24L457.34 687.59L458.91 693.07L460.49 698.68L462.07 704.42L463.65 710.26L465.23 716.21L466.81 722.26L468.39 728.41L469.97 734.64L471.55 740.94L473.13 747.31L474.71 753.75L476.28 760.24L477.86 766.77L479.44 773.34L481.02 779.94L482.6 786.55L484.18 793.19L485.76 799.82L487.34 806.45L488.92 813.07L490.5 819.67L492.08 826.24L493.65 832.77L495.23 839.26L496.81 845.69L498.39 852.06L499.97 858.37L501.55 864.6L503.13 870.74L504.71 876.79L506.29 882.74L507.87 888.59L509.45 894.32L511.02 899.93L512.6 905.41L514.18 910.76L515.76 915.97L517.34 921.02L518.92 925.93L520.5 930.67L522.08 935.25L523.66 939.65L525.24 943.88L526.82 947.92L528.39 951.78L529.97 955.44L531.55 958.91L533.13 962.18L534.71 965.24L536.29 968.09L537.87 970.73L539.45 973.16L541.03 975.36L542.61 977.34L544.19 979.1L545.76 980.64L547.34 981.94L548.92 983.02L550.5 983.86L552.08 984.47L553.66 984.85L555.24 985L556.82 984.91L558.4 984.59L559.98 984.04L561.56 983.25L563.13 982.23L564.71 980.98L566.29 979.51L567.87 977.8L569.45 975.88L571.03 973.73L572.61 971.36L574.19 968.77L575.77 965.97L577.35 962.96L578.93 959.74L580.5 956.33L582.08 952.71L583.66 948.9L585.24 944.9L586.82 940.72L588.4 936.36L589.98 931.82L591.56 927.12L593.14 922.26L594.72 917.24L596.3 912.07L597.88 906.76L599.45 901.31L601.03 895.73L602.61 890.03L604.19 884.21L605.77 878.28L607.35 872.26L608.93 866.13L610.51 859.93L612.09 853.64L613.67 847.28L615.25 840.86L616.82 834.39L618.4 827.87L619.98 821.31L621.56 814.71L623.14 808.1L624.72 801.47L626.3 794.84L627.88 788.2L629.46 781.58L631.04 774.98L632.62 768.4L634.19 761.86L635.77 755.36L637.35 748.91L638.93 742.52L640.51 736.2L642.09 729.95L643.67 723.79L645.25 717.71L646.83 711.73L648.41 705.86L649.99 700.1L651.56 694.46L653.14 688.94L654.72 683.56L656.3 678.32L657.88 673.23L659.46 668.28L661.04 663.5L662.62 658.88L664.2 654.43L665.78 650.16L667.36 646.07L668.93 642.17L670.51 638.45L672.09 634.94L673.67 631.62L675.25 628.51L676.83 625.6L678.41 622.91L679.99 620.43L681.57 618.17L683.15 616.13L684.73 614.31L686.3 612.73L687.88 611.36L689.46 610.23L691.04 609.33L692.62 608.66L694.2 608.22L695.78 608.02L697.36 608.05L698.94 608.31L700.52 608.8L702.1 609.53L703.67 610.49L705.25 611.68L706.83 613.1L708.41 614.75L709.99 616.62L711.57 618.72L713.15 621.03L714.73 623.56L716.31 626.31L717.89 629.27L719.47 632.43L721.04 635.8L722.62 639.37L724.2 643.13L725.78 647.08L727.36 651.22L728.94 655.54L730.52 660.03L732.1 664.69L733.68 669.51L735.26 674.49L736.84 679.63L738.41 684.9L739.99 690.32L741.57 695.87L743.15 701.54L744.73 707.33L746.31 713.23L747.89 719.23L749.47 725.33L751.05 731.51L752.63 737.78L754.21 744.12L755.79 750.53L757.36 756.99L758.94 763.5L760.52 770.05L762.1 776.64L763.68 783.25L765.26 789.87L766.84 796.51L768.42 803.14L770 809.76L771.58 816.37L773.16 822.96L774.73 829.51L776.31 836.02L777.89 842.48L779.47 848.89L781.05 855.23L782.63 861.5L784.21 867.68L785.79 873.78L787.37 879.78L788.95 885.68L790.53 891.47L792.1 897.14L793.68 902.69L795.26 908.11L796.84 913.38L798.42 918.51L800 923.5L801.58 928.32L803.16 932.98L804.74 937.47L806.32 941.79L807.9 945.92L809.47 949.88L811.05 953.64L812.63 957.2L814.21 960.57L815.79 963.74L817.37 966.69L818.95 969.44L820.53 971.97L822.11 974.29L823.69 976.38L825.27 978.25L826.84 979.9L828.42 981.32L830 982.51L831.58 983.47L833.16 984.2L834.74 984.69L836.32 984.95L837.9 984.98L839.48 984.78L841.06 984.34L842.64 983.67L844.21 982.77L845.79 981.64L847.37 980.27L848.95 978.68L850.53 976.87L852.11 974.83L853.69 972.57L855.27 970.09L856.85 967.39L858.43 964.49L860.01 961.38L861.58 958.06L863.16 954.54L864.74 950.83L866.32 946.92L867.9 942.83L869.48 938.56L871.06 934.11L872.64 929.49L874.22 924.71L875.8 919.77L877.38 914.67L878.95 909.43L880.53 904.05L882.11 898.53L883.69 892.89L885.27 887.13L886.85 881.26L888.43 875.28L890.01 869.2L891.59 863.04L893.17 856.79L894.75 850.47L896.32 844.08L897.9 837.63L899.48 831.13L901.06 824.59L902.64 818.01L904.22 811.41L905.8 804.78L907.38 798.15L908.96 791.52L910.54 784.89L912.12 778.27L913.7 771.68L915.27 765.12L916.85 758.6L918.43 752.13L920.01 745.71L921.59 739.35L923.17 733.06L924.75 726.86L926.33 720.73L927.91 714.71L929.49 708.78L931.07 702.96L932.64 697.26L934.22 691.68L935.8 686.23L937.38 680.92L938.96 675.75L940.54 670.73L942.12 665.87L943.7 661.17L945.28 656.63L946.86 652.27L948.44 648.09L950.01 644.09L951.59 640.28L953.17 636.67L954.75 633.25L956.33 630.03L957.91 627.03L959.49 624.23L961.07 621.64L962.65 619.27L964.23 617.12L965.81 615.19L967.38 613.49L968.96 612.01L970.54 610.77L972.12 609.75L973.7 608.96L975.28 608.41L976.86 608.09L978.44 608L980.02 608.15L981.6 608.53L983.18 609.14L984.75 609.98L986.33 611.06L987.91 612.37L989.49 613.9L991.07 615.66L992.65 617.64" fill="none" stroke="#000" stroke-width="2.85" stroke-linejoin="round"/>
<path d="M203.1 608L204.68 608.12L206.26 608.47L207.84 609.05L209.42 609.87L211 610.91L212.57 612.19L214.15 613.69L215.73 615.42L217.31 617.38L218.89 619.56L220.47 621.95L222.05 624.57L223.63 627.39L225.21 630.43L226.79 633.67L228.37 637.11L229.94 640.75L231.52 644.59L233.1 648.61L234.68 652.81L236.26 657.2L237.84 661.75L239.42 666.47L241 671.36L242.58 676.4L244.16 681.58L245.74 686.91L247.31 692.38L248.89 697.97L250.47 703.69L252.05 709.52L253.63 715.46L255.21 721.5L256.79 727.63L258.37 733.85L259.95 740.15L261.53 746.51L263.11 752.94L264.68 759.42L266.26 765.95L267.84 772.51L269.42 779.11L271 785.72L272.58 792.35L274.16 798.99L275.74 805.62L277.32 812.24L278.9 818.84L280.48 825.42L282.06 831.95L283.63 838.45L285.21 844.89L286.79 851.27L288.37 857.58L289.95 863.82L291.53 869.98L293.11 876.04L294.69 882L296.27 887.86L297.85 893.61L299.43 899.23L301 904.73L302.58 910.1L304.16 915.32L305.74 920.4L307.32 925.32L308.9 930.08L310.48 934.68L312.06 939.11L313.64 943.36L315.22 947.43L316.8 951.31L318.37 955L319.95 958.49L321.53 961.78L323.11 964.87L324.69 967.75L326.27 970.41L327.85 972.86L329.43 975.1L331.01 977.11L332.59 978.9L334.17 980.46L335.74 981.79L337.32 982.89L338.9 983.77L340.48 984.41L342.06 984.82L343.64 984.99L345.22 984.93L346.8 984.64L348.38 984.12L349.96 983.36L351.54 982.37L353.11 981.15L354.69 979.7L356.27 978.03L357.85 976.13L359.43 974.01L361.01 971.66L362.59 969.11L364.17 966.33L365.75 963.35L367.33 960.16L368.91 956.77L370.48 953.17L372.06 949.39L373.64 945.41L375.22 941.25L376.8 936.91L378.38 932.4L379.96 927.72L381.54 922.88L383.12 917.88L384.7 912.72L386.28 907.43L387.85 902L389.43 896.44L391.01 890.75L392.59 884.94L394.17 879.03L395.75 873.02L397.33 866.91L398.91 860.71L400.49 854.43L402.07 848.08L403.65 841.67L405.22 835.2L406.8 828.69L408.38 822.13L409.96 815.54L411.54 808.93L413.12 802.3L414.7 795.67L416.28 789.04L417.86 782.41L419.44 775.8L421.02 769.22L422.59 762.68L424.17 756.17L425.75 749.72L427.33 743.32L428.91 736.99L430.49 730.73L432.07 724.55L433.65 718.47L435.23 712.48L436.81 706.59L438.39 700.82L439.97 695.16L441.54 689.63L443.12 684.23L444.7 678.97L446.28 673.86L447.86 668.89L449.44 664.09L451.02 659.45L452.6 654.98L454.18 650.69L455.76 646.57L457.34 642.65L458.91 638.91L460.49 635.37L462.07 632.02L463.65 628.88L465.23 625.95L466.81 623.23L468.39 620.73L469.97 618.44L471.55 616.37L473.13 614.53L474.71 612.91L476.28 611.52L477.86 610.36L479.44 609.43L481.02 608.73L482.6 608.26L484.18 608.03L485.76 608.03L487.34 608.26L488.92 608.73L490.5 609.43L492.08 610.36L493.65 611.52L495.23 612.91L496.81 614.53L498.39 616.38L499.97 618.44L501.55 620.73L503.13 623.24L504.71 625.96L506.29 628.89L507.87 632.03L509.45 635.37L511.02 638.91L512.6 642.65L514.18 646.58L515.76 650.69L517.34 654.99L518.92 659.46L520.5 664.1L522.08 668.9L523.66 673.86L525.24 678.97L526.82 684.23L528.39 689.63L529.97 695.16L531.55 700.82L533.13 706.59L534.71 712.48L536.29 718.47L537.87 724.56L539.45 730.74L541.03 736.99L542.61 743.32L544.19 749.72L545.76 756.18L547.34 762.68L548.92 769.23L550.5 775.81L552.08 782.42L553.66 789.04L555.24 795.67L556.82 802.31L558.4 808.94L559.98 815.55L561.56 822.14L563.13 828.69L564.71 835.21L566.29 841.68L567.87 848.09L569.45 854.44L571.03 860.71L572.61 866.91L574.19 873.02L575.77 879.04L577.35 884.95L578.93 890.75L580.5 896.44L582.08 902L583.66 907.43L585.24 912.73L586.82 917.88L588.4 922.88L589.98 927.72L591.56 932.41L593.14 936.92L594.72 941.26L596.3 945.42L597.88 949.39L599.45 953.18L601.03 956.77L602.61 960.16L604.19 963.35L605.77 966.33L607.35 969.11L608.93 971.67L610.51 974.01L612.09 976.13L613.67 978.03L615.25 979.71L616.82 981.15L618.4 982.37L619.98 983.36L621.56 984.12L623.14 984.64L624.72 984.93L626.3 984.99L627.88 984.82L629.46 984.41L631.04 983.77L632.62 982.89L634.19 981.79L635.77 980.46L637.35 978.89L638.93 977.11L640.51 975.09L642.09 972.86L643.67 970.41L645.25 967.74L646.83 964.86L648.41 961.78L649.99 958.49L651.56 954.99L653.14 951.3L654.72 947.42L656.3 943.35L657.88 939.1L659.46 934.68L661.04 930.08L662.62 925.32L664.2 920.39L665.78 915.32L667.36 910.09L668.93 904.73L670.51 899.23L672.09 893.6L673.67 887.86L675.25 882L676.83 876.03L678.41 869.97L679.99 863.82L681.57 857.58L683.15 851.26L684.73 844.88L686.3 838.44L687.88 831.95L689.46 825.41L691.04 818.84L692.62 812.24L694.2 805.61L695.78 798.98L697.36 792.35L698.94 785.72L700.52 779.1L702.1 772.51L703.67 765.94L705.25 759.42L706.83 752.93L708.41 746.51L709.99 740.14L711.57 733.85L713.15 727.63L714.73 721.5L716.31 715.46L717.89 709.52L719.47 703.69L721.04 697.97L722.62 692.37L724.2 686.91L725.78 681.58L727.36 676.39L728.94 671.35L730.52 666.47L732.1 661.75L733.68 657.19L735.26 652.81L736.84 648.61L738.41 644.58L739.99 640.75L741.57 637.11L743.15 633.67L744.73 630.43L746.31 627.39L747.89 624.57L749.47 621.95L751.05 619.56L752.63 617.38L754.21 615.42L755.79 613.69L757.36 612.19L758.94 610.91L760.52 609.86L762.1 609.05L763.68 608.47L765.26 608.12L766.84 608L768.42 608.12L770 608.47L771.58 609.05L773.16 609.87L774.73 610.91L776.31 612.19L777.89 613.69L779.47 615.43L781.05 617.38L782.63 619.56L784.21 621.96L785.79 624.57L787.37 627.4L788.95 630.43L790.53 633.67L792.1 637.12L793.68 640.76L795.26 644.59L796.84 648.61L798.42 652.82L800 657.2L801.58 661.76L803.16 666.48L804.74 671.36L806.32 676.4L807.9 681.59L809.47 686.92L811.05 692.38L812.63 697.98L814.21 703.7L815.79 709.53L817.37 715.47L818.95 721.51L820.53 727.64L822.11 733.86L823.69 740.15L825.27 746.52L826.84 752.95L828.42 759.43L830 765.95L831.58 772.52L833.16 779.11L834.74 785.73L836.32 792.36L837.9 798.99L839.48 805.63L841.06 812.25L842.64 818.85L844.21 825.42L845.79 831.96L847.37 838.45L848.95 844.89L850.53 851.27L852.11 857.59L853.69 863.83L855.27 869.98L856.85 876.04L858.43 882.01L860.01 887.87L861.58 893.61L863.16 899.24L864.74 904.74L866.32 910.1L867.9 915.33L869.48 920.4L871.06 925.32L872.64 930.09L874.22 934.68L875.8 939.11L877.38 943.36L878.95 947.43L880.53 951.31L882.11 955L883.69 958.49L885.27 961.78L886.85 964.87L888.43 967.75L890.01 970.41L891.59 972.87L893.17 975.1L894.75 977.11L896.32 978.9L897.9 980.46L899.48 981.79L901.06 982.9L902.64 983.77L904.22 984.41L905.8 984.82L907.38 984.99L908.96 984.93L910.54 984.64L912.12 984.12L913.7 983.36L915.27 982.37L916.85 981.15L918.43 979.7L920.01 978.03L921.59 976.13L923.17 974L924.75 971.66L926.33 969.1L927.91 966.33L929.49 963.35L931.07 960.16L932.64 956.76L934.22 953.17L935.8 949.38L937.38 945.41L938.96 941.25L940.54 936.91L942.12 932.4L943.7 927.72L945.28 922.87L946.86 917.87L948.44 912.72L950.01 907.43L951.59 901.99L953.17 896.43L954.75 890.74L956.33 884.94L957.91 879.03L959.49 873.01L961.07 866.9L962.65 860.7L964.23 854.43L965.81 848.08L967.38 841.67L968.96 835.2L970.54 828.68L972.12 822.12L973.7 815.54L975.28 808.92L976.86 802.3L978.44 795.66L980.02 789.03L981.6 782.41L983.18 775.8L984.75 769.22L986.33 762.67L987.91 756.17L989.49 749.71L991.07 743.31L992.65 736.98" fill="none" stroke="#000" stroke-width="2.85" stroke-linejoin="round"/>
<rect x="183.6" y="589.3" width="829" height="414.2" fill="none" stroke="#000" stroke-width="2.1"/>
<path d="M183.6 608h-12M183.6 702.25h-12M183.6 796.5h-12M183.6 890.75h-12M183.6 985h-12M183.6 655.12h-6.5M183.6 749.38h-6.5M183.6 843.62h-6.5M183.6 937.88h-6.5M203.1 1003.5v12M361.01 1003.5v12M518.92 1003.5v12M676.83 1003.5v12M834.74 1003.5v12M992.65 1003.5v12M282.06 1003.5v6.5M439.97 1003.5v6.5M597.88 1003.5v6.5M755.79 1003.5v6.5M913.7 1003.5v6.5" stroke="#000" stroke-width="1.2" fill="none"/>
<text transform="translate(151.3 619.35) rotate(0.05) scale(1 1.04)" font-size="34" stroke-width="0.3" text-anchor="end">1.0</text>
<text transform="translate(151.3 713.6) rotate(0.05) scale(1 1.04)" font-size="34" stroke-width="0.3" text-anchor="end">0.5</text>
<text transform="translate(151.3 807.85) rotate(0.05) scale(1 1.04)" font-size="34" stroke-width="0.3" text-anchor="end">0.0</text>
<text transform="translate(151.3 902.1) rotate(0.05) scale(1 1.04)" font-size="34" stroke-width="0.3" text-anchor="end">-0.5</text>
<text transform="translate(151.3 996.35) rotate(0.05) scale(1 1.04)" font-size="34" stroke-width="0.3" text-anchor="end">-1.0</text>
<text transform="translate(208.2 1060.86) rotate(0.05) scale(1 1.04)" font-size="34" stroke-width="0.3" text-anchor="middle">0</text>
<text transform="translate(366.11 1060.86) rotate(0.05) scale(1 1.04)" font-size="34" stroke-width="0.3" text-anchor="middle">20</text>
<text transform="translate(524.02 1060.86) rotate(0.05) scale(1 1.04)" font-size="34" stroke-width="0.3" text-anchor="middle">40</text>
<text transform="translate(681.93 1060.86) rotate(0.05) scale(1 1.04)" font-size="34" stroke-width="0.3" text-anchor="middle">60</text>
<text transform="translate(839.84 1060.86) rotate(0.05) scale(1 1.04)" font-size="34" stroke-width="0.3" text-anchor="middle">80</text>
<text transform="translate(997.75 1060.86) rotate(0.05) scale(1 1.04)" font-size="34" stroke-width="0.3" text-anchor="middle">100</text>
<text transform="translate(598.4 1111) rotate(0.05)" text-anchor="middle">Time (ps)</text>
<text transform="translate(56.2 796.15) rotate(-89.95)" font-size="34" text-anchor="middle">Magnetisation (m/m<tspan font-size="27.2" dy="10.4">s</tspan><tspan font-size="34" dy="-10.4">)</tspan></text>
<text transform="translate(-2.2 602.5) rotate(0.05)" font-size="56" font-weight="bold" stroke="none">b</text>
</g>
<g>
<path d="M1012.6 1368.9H183.6" stroke="#222" stroke-width="1" stroke-dasharray="2.05 3.51" stroke-dashoffset="2.2" fill="none"/>
<path d="M202.5 1368.9L205.66 1365.58L208.83 1362.27L211.99 1358.96L215.16 1355.65L218.32 1352.36L221.49 1349.07L224.65 1345.8L227.82 1342.54L230.98 1339.3L234.14 1336.07L237.31 1332.87L240.47 1329.68L243.64 1326.52L246.8 1323.38L249.97 1320.27L253.13 1317.19L256.29 1314.14L259.46 1311.12L262.62 1308.13L265.79 1305.18L268.95 1302.26L272.12 1299.37L275.28 1296.53L278.45 1293.72L281.61 1290.95L284.77 1288.22L287.94 1285.53L291.1 1282.88L294.27 1280.28L297.43 1277.72L300.6 1275.2L303.76 1272.72L306.93 1270.29L310.09 1267.91L313.25 1265.57L316.42 1263.27L319.58 1261.02L322.75 1258.81L325.91 1256.65L329.08 1254.53L332.24 1252.46L335.4 1250.43L338.57 1248.44L341.73 1246.51L344.9 1244.61L348.06 1242.76L351.23 1240.95L354.39 1239.18L357.56 1237.46L360.72 1235.78L363.88 1234.13L367.05 1232.53L370.21 1230.97L373.38 1229.45L376.54 1227.97L379.71 1226.53L382.87 1225.12L386.04 1223.76L389.2 1222.43L392.36 1221.13L395.53 1219.87L398.69 1218.65L401.86 1217.45L405.02 1216.3L408.19 1215.17L411.35 1214.08L414.51 1213.01L417.68 1211.98L420.84 1210.98L424.01 1210.01L427.17 1209.06L430.34 1208.15L433.5 1207.26L436.67 1206.39L439.83 1205.55L442.99 1204.74L446.16 1203.95L449.32 1203.19L452.49 1202.45L455.65 1201.73L458.82 1201.04L461.98 1200.36L465.15 1199.71L468.31 1199.07L471.47 1198.46L474.64 1197.87L477.8 1197.29L480.97 1196.73L484.13 1196.19L487.3 1195.67L490.46 1195.17L493.62 1194.68L496.79 1194.2L499.95 1193.74L503.12 1193.3L506.28 1192.87L509.45 1192.45L512.61 1192.05L515.78 1191.66L518.94 1191.29L522.1 1190.92L525.27 1190.57L528.43 1190.23L531.6 1189.9L534.76 1189.58L537.93 1189.27L541.09 1188.97L544.26 1188.68L547.42 1188.41L550.58 1188.14L553.75 1187.88L556.91 1187.62L560.08 1187.38L563.24 1187.14L566.41 1186.92L569.57 1186.7L572.73 1186.48L575.9 1186.28L579.06 1186.08L582.23 1185.89L585.39 1185.7L588.56 1185.52L591.72 1185.35L594.89 1185.18L598.05 1185.02L601.21 1184.86L604.38 1184.71L607.54 1184.57L610.71 1184.43L613.87 1184.29L617.04 1184.16L620.2 1184.03L623.37 1183.91L626.53 1183.79L629.69 1183.68L632.86 1183.57L636.02 1183.46L639.19 1183.36L642.35 1183.26L645.52 1183.16L648.68 1183.07L651.84 1182.98L655.01 1182.89L658.17 1182.81L661.34 1182.72L664.5 1182.65L667.67 1182.57L670.83 1182.5L674 1182.43L677.16 1182.36L680.32 1182.29L683.49 1182.23L686.65 1182.17L689.82 1182.11L692.98 1182.05L696.15 1182L699.31 1181.94L702.48 1181.89L705.64 1181.84L708.8 1181.8L711.97 1181.75L715.13 1181.7L718.3 1181.66L721.46 1181.62L724.63 1181.58L727.79 1181.54L730.95 1181.5L734.12 1181.47L737.28 1181.43L740.45 1181.4L743.61 1181.36L746.78 1181.33L749.94 1181.3L753.11 1181.27L756.27 1181.24L759.43 1181.22L762.6 1181.19L765.76 1181.16L768.93 1181.14L772.09 1181.12L775.26 1181.09L778.42 1181.07L781.59 1181.05L784.75 1181.03L787.91 1181.01L791.08 1180.99L794.24 1180.97L797.41 1180.95L800.57 1180.94L803.74 1180.92L806.9 1180.9L810.06 1180.89L813.23 1180.87L816.39 1180.86L819.56 1180.84L822.72 1180.83L825.89 1180.82L829.05 1180.8L832.22 1180.79L835.38 1180.78L838.54 1180.77L841.71 1180.76L844.87 1180.75L848.04 1180.74L851.2 1180.73L854.37 1180.72L857.53 1180.71L860.7 1180.7L863.86 1180.69L867.02 1180.68L870.19 1180.67L873.35 1180.67L876.52 1180.66L879.68 1180.65L882.85 1180.64L886.01 1180.64L889.17 1180.63L892.34 1180.63L895.5 1180.62L898.67 1180.61L901.83 1180.61L905 1180.6L908.16 1180.6L911.33 1180.59L914.49 1180.59L917.65 1180.58L920.82 1180.58L923.98 1180.57L927.15 1180.57L930.31 1180.56L933.48 1180.56L936.64 1180.56L939.81 1180.55L942.97 1180.55L946.13 1180.55L949.3 1180.54L952.46 1180.54L955.63 1180.54L958.79 1180.53L961.96 1180.53L965.12 1180.53L968.28 1180.53L971.45 1180.52L974.61 1180.52L977.78 1180.52L980.94 1180.52L984.11 1180.51L987.27 1180.51L990.44 1180.51L993.6 1180.51" fill="none" stroke="#000" stroke-width="2.6" stroke-linejoin="round"/>
<path d="M202.5 1368.9L203.29 1360.61L204.08 1352.34L204.87 1344.1L205.66 1335.91L206.46 1327.78L207.25 1319.74L208.04 1311.8L208.83 1303.97L209.62 1296.27L210.41 1288.71L211.2 1281.31L211.99 1274.09L212.78 1267.06L213.58 1260.22L214.37 1253.61L215.16 1247.22L215.95 1241.08L216.74 1235.19L217.53 1229.56L218.32 1224.21L219.11 1219.15L219.9 1214.39L220.7 1209.93L221.49 1205.78L222.28 1201.96L223.07 1198.47L223.86 1195.32L224.65 1192.5L225.44 1190.04L226.23 1187.92L227.02 1186.17L227.82 1184.77L228.61 1183.73L229.4 1183.06L230.19 1182.75L230.98 1182.81L231.77 1183.22L232.56 1184L233.35 1185.15L234.14 1186.64L234.94 1188.49L235.73 1190.7L236.52 1193.24L237.31 1196.13L238.1 1199.34L238.89 1202.89L239.68 1206.75L240.47 1210.92L241.26 1215.39L242.06 1220.15L242.85 1225.2L243.64 1230.51L244.43 1236.09L245.22 1241.91L246.01 1247.97L246.8 1254.25L247.59 1260.75L248.38 1267.44L249.17 1274.31L249.97 1281.36L250.76 1288.56L251.55 1295.9L252.34 1303.36L253.13 1310.93L253.92 1318.6L254.71 1326.35L255.5 1334.17L256.29 1342.03L257.09 1349.92L257.88 1357.83L258.67 1365.74L259.46 1373.64L260.25 1381.5L261.04 1389.32L261.83 1397.08L262.62 1404.76L263.41 1412.35L264.21 1419.83L265 1427.19L265.79 1434.42L266.58 1441.5L267.37 1448.41L268.16 1455.15L268.95 1461.7L269.74 1468.04L270.53 1474.18L271.33 1480.09L272.12 1485.76L272.91 1491.19L273.7 1496.35L274.49 1501.26L275.28 1505.89L276.07 1510.23L276.86 1514.29L277.65 1518.05L278.45 1521.5L279.24 1524.64L280.03 1527.47L280.82 1529.98L281.61 1532.17L282.4 1534.03L283.19 1535.56L283.98 1536.76L284.77 1537.62L285.57 1538.16L286.36 1538.36L287.15 1538.23L287.94 1537.77L288.73 1536.99L289.52 1535.88L290.31 1534.44L291.1 1532.69L291.89 1530.63L292.69 1528.26L293.48 1525.59L294.27 1522.62L295.06 1519.37L295.85 1515.83L296.64 1512.03L297.43 1507.96L298.22 1503.64L299.01 1499.07L299.81 1494.27L300.6 1489.24L301.39 1484.01L302.18 1478.57L302.97 1472.94L303.76 1467.13L304.55 1461.16L305.34 1455.03L306.13 1448.77L306.93 1442.37L307.72 1435.86L308.51 1429.26L309.3 1422.56L310.09 1415.79L310.88 1408.97L311.67 1402.09L312.46 1395.19L313.25 1388.26L314.05 1381.34L314.84 1374.42L315.63 1367.52L316.42 1360.66L317.21 1353.85L318 1347.11L318.79 1340.43L319.58 1333.85L320.37 1327.37L321.17 1321.01L321.96 1314.76L322.75 1308.66L323.54 1302.71L324.33 1296.91L325.12 1291.29L325.91 1285.84L326.7 1280.59L327.49 1275.54L328.28 1270.69L329.08 1266.06L329.87 1261.66L330.66 1257.49L331.45 1253.56L332.24 1249.87L333.03 1246.44L333.82 1243.27L334.61 1240.36L335.4 1237.71L336.2 1235.33L336.99 1233.23L337.78 1231.41L338.57 1229.86L339.36 1228.59L340.15 1227.6L340.94 1226.9L341.73 1226.47L342.52 1226.33L343.32 1226.46L344.11 1226.87L344.9 1227.56L345.69 1228.51L346.48 1229.74L347.27 1231.23L348.06 1232.98L348.85 1234.98L349.64 1237.23L350.44 1239.73L351.23 1242.46L352.02 1245.42L352.81 1248.61L353.6 1252.01L354.39 1255.62L355.18 1259.43L355.97 1263.42L356.76 1267.6L357.56 1271.95L358.35 1276.47L359.14 1281.13L359.93 1285.94L360.72 1290.88L361.51 1295.94L362.3 1301.12L363.09 1306.39L363.88 1311.75L364.68 1317.19L365.47 1322.69L366.26 1328.25L367.05 1333.86L367.84 1339.5L368.63 1345.15L369.42 1350.82L370.21 1356.49L371 1362.15L371.8 1367.78L372.59 1373.38L373.38 1378.93L374.17 1384.43L374.96 1389.86L375.75 1395.22L376.54 1400.49L377.33 1405.66L378.12 1410.73L378.92 1415.68L379.71 1420.51L380.5 1425.2L381.29 1429.76L382.08 1434.16L382.87 1438.41L383.66 1442.5L384.45 1446.41L385.24 1450.15L386.04 1453.71L386.83 1457.07L387.62 1460.24L388.41 1463.21L389.2 1465.98L389.99 1468.54L390.78 1470.88L391.57 1473.02L392.36 1474.93L393.16 1476.63L393.95 1478.1L394.74 1479.35L395.53 1480.38L396.32 1481.18L397.11 1481.76L397.9 1482.11L398.69 1482.24L399.48 1482.15L400.27 1481.84L401.07 1481.32L401.86 1480.57L402.65 1479.62L403.44 1478.45L404.23 1477.08L405.02 1475.51L405.81 1473.74L406.6 1471.78L407.39 1469.64L408.19 1467.31L408.98 1464.81L409.77 1462.14L410.56 1459.3L411.35 1456.32L412.14 1453.18L412.93 1449.9L413.72 1446.49L414.51 1442.95L415.31 1439.29L416.1 1435.52L416.89 1431.65L417.68 1427.68L418.47 1423.63L419.26 1419.51L420.05 1415.31L420.84 1411.05L421.63 1406.75L422.43 1402.4L423.22 1398.02L424.01 1393.61L424.8 1389.19L425.59 1384.76L426.38 1380.33L427.17 1375.92L427.96 1371.52L428.75 1367.15L429.55 1362.82L430.34 1358.53L431.13 1354.29L431.92 1350.12L432.71 1346.01L433.5 1341.98L434.29 1338.03L435.08 1334.17L435.87 1330.4L436.67 1326.74L437.46 1323.19L438.25 1319.76L439.04 1316.44L439.83 1313.26L440.62 1310.21L441.41 1307.29L442.2 1304.52L442.99 1301.89L443.79 1299.41L444.58 1297.09L445.37 1294.93L446.16 1292.92L446.95 1291.08L447.74 1289.41L448.53 1287.9L449.32 1286.57L450.11 1285.4L450.91 1284.4L451.7 1283.58L452.49 1282.93L453.28 1282.45L454.07 1282.15L454.86 1282.01L455.65 1282.05L456.44 1282.25L457.23 1282.62L458.03 1283.16L458.82 1283.86L459.61 1284.72L460.4 1285.74L461.19 1286.91L461.98 1288.23L462.77 1289.7L463.56 1291.31L464.35 1293.06L465.15 1294.94L465.94 1296.95L466.73 1299.09L467.52 1301.34L468.31 1303.71L469.1 1306.19L469.89 1308.77L470.68 1311.45L471.47 1314.22L472.27 1317.07L473.06 1320L473.85 1323L474.64 1326.07L475.43 1329.2L476.22 1332.38L477.01 1335.6L477.8 1338.87L478.59 1342.16L479.38 1345.48L480.18 1348.83L480.97 1352.18L481.76 1355.54L482.55 1358.9L483.34 1362.25L484.13 1365.59L484.92 1368.9L485.71 1372.19L486.5 1375.45L487.3 1378.67L488.09 1381.84L488.88 1384.96L489.67 1388.03L490.46 1391.03L491.25 1393.97L492.04 1396.84L492.83 1399.62L493.62 1402.33L494.42 1404.94L495.21 1407.47L496 1409.9L496.79 1412.23L497.58 1414.46L498.37 1416.58L499.16 1418.59L499.95 1420.49L500.74 1422.27L501.54 1423.93L502.33 1425.47L503.12 1426.89L503.91 1428.19L504.7 1429.36L505.49 1430.4L506.28 1431.31L507.07 1432.1L507.86 1432.75L508.66 1433.28L509.45 1433.67L510.24 1433.94L511.03 1434.08L511.82 1434.09L512.61 1433.97L513.4 1433.73L514.19 1433.36L514.98 1432.87L515.78 1432.26L516.57 1431.53L517.36 1430.68L518.15 1429.73L518.94 1428.66L519.73 1427.48L520.52 1426.2L521.31 1424.82L522.1 1423.34L522.9 1421.77L523.69 1420.11L524.48 1418.36L525.27 1416.53L526.06 1414.62L526.85 1412.64L527.64 1410.59L528.43 1408.48L529.22 1406.3L530.02 1404.07L530.81 1401.8L531.6 1399.47L532.39 1397.11L533.18 1394.71L533.97 1392.28L534.76 1389.83L535.55 1387.35L536.34 1384.87L537.14 1382.37L537.93 1379.86L538.72 1377.35L539.51 1374.85L540.3 1372.36L541.09 1369.88L541.88 1367.42L542.67 1364.99L543.46 1362.58L544.26 1360.21L545.05 1357.87L545.84 1355.57L546.63 1353.32L547.42 1351.12L548.21 1348.97L549 1346.87L549.79 1344.84L550.58 1342.87L551.38 1340.97L552.17 1339.14L552.96 1337.38L553.75 1335.7L554.54 1334.1L555.33 1332.58L556.12 1331.14L556.91 1329.79L557.7 1328.53L558.5 1327.35L559.29 1326.27L560.08 1325.27L560.87 1324.37L561.66 1323.57L562.45 1322.86L563.24 1322.25L564.03 1321.73L564.82 1321.31L565.61 1320.98L566.41 1320.75L567.2 1320.62L567.99 1320.58L568.78 1320.63L569.57 1320.78L570.36 1321.02L571.15 1321.36L571.94 1321.78L572.73 1322.29L573.53 1322.89L574.32 1323.57L575.11 1324.33L575.9 1325.18L576.69 1326.1L577.48 1327.1L578.27 1328.17L579.06 1329.31L579.85 1330.51L580.65 1331.79L581.44 1333.12L582.23 1334.51L583.02 1335.96L583.81 1337.46L584.6 1339.01L585.39 1340.6L586.18 1342.23L586.97 1343.91L587.77 1345.61L588.56 1347.35L589.35 1349.12L590.14 1350.9L590.93 1352.71L591.72 1354.53L592.51 1356.37L593.3 1358.22L594.09 1360.07L594.89 1361.92L595.68 1363.77L596.47 1365.61L597.26 1367.44L598.05 1369.27L598.84 1371.07L599.63 1372.86L600.42 1374.62L601.21 1376.35L602.01 1378.06L602.8 1379.73L603.59 1381.37L604.38 1382.97L605.17 1384.53L605.96 1386.05L606.75 1387.52L607.54 1388.94L608.33 1390.31L609.13 1391.62L609.92 1392.88L610.71 1394.09L611.5 1395.23L612.29 1396.31L613.08 1397.33L613.87 1398.29L614.66 1399.18L615.45 1400L616.25 1400.76L617.04 1401.45L617.83 1402.06L618.62 1402.61L619.41 1403.09L620.2 1403.5L620.99 1403.83L621.78 1404.1L622.57 1404.29L623.37 1404.42L624.16 1404.47L624.95 1404.46L625.74 1404.37L626.53 1404.22L627.32 1404L628.11 1403.71L628.9 1403.36L629.69 1402.94L630.49 1402.46L631.28 1401.92L632.07 1401.32L632.86 1400.67L633.65 1399.95L634.44 1399.18L635.23 1398.36L636.02 1397.49L636.81 1396.57L637.61 1395.61L638.4 1394.6L639.19 1393.55L639.98 1392.46L640.77 1391.34L641.56 1390.18L642.35 1388.99L643.14 1387.77L643.93 1386.52L644.72 1385.25L645.52 1383.96L646.31 1382.65L647.1 1381.33L647.89 1379.99L648.68 1378.65L649.47 1377.29L650.26 1375.93L651.05 1374.57L651.84 1373.21L652.64 1371.86L653.43 1370.51L654.22 1369.17L655.01 1367.83L655.8 1366.52L656.59 1365.22L657.38 1363.93L658.17 1362.67L658.96 1361.43L659.76 1360.22L660.55 1359.03L661.34 1357.88L662.13 1356.75L662.92 1355.66L663.71 1354.6L664.5 1353.58L665.29 1352.6L666.08 1351.66L666.88 1350.76L667.67 1349.9L668.46 1349.09L669.25 1348.33L670.04 1347.61L670.83 1346.94L671.62 1346.31L672.41 1345.74L673.2 1345.21L674 1344.74L674.79 1344.32L675.58 1343.95L676.37 1343.63L677.16 1343.36L677.95 1343.15L678.74 1342.99L679.53 1342.88L680.32 1342.82L681.12 1342.81L681.91 1342.85L682.7 1342.94L683.49 1343.09L684.28 1343.28L685.07 1343.52L685.86 1343.81L686.65 1344.14L687.44 1344.52L688.24 1344.94L689.03 1345.41L689.82 1345.92L690.61 1346.47L691.4 1347.05L692.19 1347.68L692.98 1348.34L693.77 1349.03L694.56 1349.76L695.36 1350.52L696.15 1351.31L696.94 1352.12L697.73 1352.96L698.52 1353.83L699.31 1354.71L700.1 1355.62L700.89 1356.54L701.68 1357.48L702.48 1358.44L703.27 1359.4L704.06 1360.38L704.85 1361.36L705.64 1362.35L706.43 1363.35L707.22 1364.34L708.01 1365.34L708.8 1366.34L709.6 1367.33L710.39 1368.31L711.18 1369.29L711.97 1370.26L712.76 1371.22L713.55 1372.16L714.34 1373.1L715.13 1374.01L715.92 1374.91L716.72 1375.78L717.51 1376.64L718.3 1377.47L719.09 1378.28L719.88 1379.07L720.67 1379.82L721.46 1380.55L722.25 1381.25L723.04 1381.93L723.83 1382.56L724.63 1383.17L725.42 1383.75L726.21 1384.29L727 1384.79L727.79 1385.26L728.58 1385.7L729.37 1386.09L730.16 1386.45L730.95 1386.78L731.75 1387.06L732.54 1387.31L733.33 1387.52L734.12 1387.69L734.91 1387.83L735.7 1387.92L736.49 1387.98L737.28 1388L738.07 1387.99L738.87 1387.93L739.66 1387.84L740.45 1387.72L741.24 1387.55L742.03 1387.36L742.82 1387.12L743.61 1386.86L744.4 1386.56L745.19 1386.23L745.99 1385.87L746.78 1385.48L747.57 1385.06L748.36 1384.62L749.15 1384.14L749.94 1383.65L750.73 1383.12L751.52 1382.58L752.31 1382.01L753.11 1381.42L753.9 1380.81L754.69 1380.19L755.48 1379.54L756.27 1378.89L757.06 1378.21L757.85 1377.53L758.64 1376.84L759.43 1376.13L760.23 1375.42L761.02 1374.7L761.81 1373.98L762.6 1373.25L763.39 1372.53L764.18 1371.8L764.97 1371.07L765.76 1370.34L766.55 1369.62L767.35 1368.9L768.14 1368.19L768.93 1367.48L769.72 1366.79L770.51 1366.1L771.3 1365.43L772.09 1364.77L772.88 1364.12L773.67 1363.49L774.47 1362.87L775.26 1362.27L776.05 1361.69L776.84 1361.13L777.63 1360.59L778.42 1360.07L779.21 1359.57L780 1359.09L780.79 1358.64L781.59 1358.21L782.38 1357.8L783.17 1357.42L783.96 1357.07L784.75 1356.74L785.54 1356.44L786.33 1356.16L787.12 1355.92L787.91 1355.7L788.71 1355.5L789.5 1355.34L790.29 1355.2L791.08 1355.09L791.87 1355.01L792.66 1354.96L793.45 1354.93L794.24 1354.93L795.03 1354.96L795.83 1355.02L796.62 1355.1L797.41 1355.21L798.2 1355.34L798.99 1355.5L799.78 1355.69L800.57 1355.89L801.36 1356.13L802.15 1356.38L802.94 1356.66L803.74 1356.96L804.53 1357.27L805.32 1357.61L806.11 1357.97L806.9 1358.35L807.69 1358.74L808.48 1359.15L809.27 1359.57L810.06 1360.01L810.86 1360.46L811.65 1360.93L812.44 1361.41L813.23 1361.89L814.02 1362.39L814.81 1362.89L815.6 1363.41L816.39 1363.92L817.18 1364.45L817.98 1364.97L818.77 1365.5L819.56 1366.04L820.35 1366.57L821.14 1367.1L821.93 1367.64L822.72 1368.16L823.51 1368.69L824.3 1369.21L825.1 1369.73L825.89 1370.24L826.68 1370.75L827.47 1371.24L828.26 1371.73L829.05 1372.21L829.84 1372.67L830.63 1373.13L831.42 1373.57L832.22 1374L833.01 1374.42L833.8 1374.82L834.59 1375.21L835.38 1375.58L836.17 1375.93L836.96 1376.27L837.75 1376.59L838.54 1376.9L839.34 1377.18L840.13 1377.45L840.92 1377.7L841.71 1377.92L842.5 1378.13L843.29 1378.32L844.08 1378.49L844.87 1378.64L845.66 1378.77L846.46 1378.87L847.25 1378.96L848.04 1379.03L848.83 1379.08L849.62 1379.1L850.41 1379.11L851.2 1379.1L851.99 1379.06L852.78 1379.01L853.58 1378.94L854.37 1378.85L855.16 1378.74L855.95 1378.61L856.74 1378.47L857.53 1378.31L858.32 1378.13L859.11 1377.93L859.9 1377.72L860.7 1377.49L861.49 1377.25L862.28 1376.99L863.07 1376.72L863.86 1376.44L864.65 1376.15L865.44 1375.84L866.23 1375.53L867.02 1375.2L867.82 1374.86L868.61 1374.52L869.4 1374.16L870.19 1373.8L870.98 1373.44L871.77 1373.07L872.56 1372.69L873.35 1372.31L874.14 1371.92L874.94 1371.54L875.73 1371.15L876.52 1370.76L877.31 1370.37L878.1 1369.98L878.89 1369.59L879.68 1369.21L880.47 1368.82L881.26 1368.44L882.05 1368.07L882.85 1367.7L883.64 1367.33L884.43 1366.97L885.22 1366.62L886.01 1366.28L886.8 1365.94L887.59 1365.61L888.38 1365.3L889.17 1364.99L889.97 1364.69L890.76 1364.4L891.55 1364.13L892.34 1363.86L893.13 1363.61L893.92 1363.37L894.71 1363.14L895.5 1362.93L896.29 1362.73L897.09 1362.54L897.88 1362.37L898.67 1362.21L899.46 1362.07L900.25 1361.94L901.04 1361.83L901.83 1361.73L902.62 1361.64L903.41 1361.57L904.21 1361.52L905 1361.48L905.79 1361.45L906.58 1361.44L907.37 1361.44L908.16 1361.46L908.95 1361.5L909.74 1361.54L910.53 1361.6L911.33 1361.68L912.12 1361.76L912.91 1361.87L913.7 1361.98L914.49 1362.11L915.28 1362.24L916.07 1362.39L916.86 1362.56L917.65 1362.73L918.45 1362.91L919.24 1363.1L920.03 1363.31L920.82 1363.52L921.61 1363.74L922.4 1363.97L923.19 1364.2L923.98 1364.45L924.77 1364.69L925.57 1364.95L926.36 1365.21L927.15 1365.48L927.94 1365.75L928.73 1366.02L929.52 1366.3L930.31 1366.58L931.1 1366.86L931.89 1367.14L932.69 1367.43L933.48 1367.71L934.27 1368L935.06 1368.28L935.85 1368.56L936.64 1368.84L937.43 1369.12L938.22 1369.4L939.01 1369.67L939.81 1369.94L940.6 1370.2L941.39 1370.46L942.18 1370.72L942.97 1370.96L943.76 1371.21L944.55 1371.44L945.34 1371.67L946.13 1371.89L946.93 1372.1L947.72 1372.31L948.51 1372.5L949.3 1372.69L950.09 1372.87L950.88 1373.04L951.67 1373.2L952.46 1373.35L953.25 1373.49L954.05 1373.62L954.84 1373.74L955.63 1373.85L956.42 1373.95L957.21 1374.04L958 1374.11L958.79 1374.18L959.58 1374.23L960.37 1374.28L961.16 1374.31L961.96 1374.34L962.75 1374.35L963.54 1374.35L964.33 1374.34L965.12 1374.32L965.91 1374.29L966.7 1374.25L967.49 1374.2L968.28 1374.14L969.08 1374.07L969.87 1373.99L970.66 1373.9L971.45 1373.8L972.24 1373.7L973.03 1373.58L973.82 1373.46L974.61 1373.33L975.4 1373.19L976.2 1373.05L976.99 1372.89L977.78 1372.74L978.57 1372.57L979.36 1372.4L980.15 1372.23L980.94 1372.05L981.73 1371.86L982.52 1371.67L983.32 1371.48L984.11 1371.28L984.9 1371.08L985.69 1370.88L986.48 1370.68L987.27 1370.47L988.06 1370.27L988.85 1370.06L989.64 1369.85L990.44 1369.64L991.23 1369.43L992.02 1369.23L992.81 1369.02L993.6 1368.82" fill="none" stroke="#000" stroke-width="2.6" stroke-linejoin="round"/>
<path d="M202.5 1180.45L203.29 1180.63L204.08 1181.19L204.87 1182.11L205.66 1183.39L206.46 1185.04L207.25 1187.04L208.04 1189.4L208.83 1192.11L209.62 1195.17L210.41 1198.56L211.2 1202.29L211.99 1206.34L212.78 1210.71L213.58 1215.38L214.37 1220.35L215.16 1225.61L215.95 1231.14L216.74 1236.94L217.53 1243L218.32 1249.29L219.11 1255.82L219.9 1262.56L220.7 1269.5L221.49 1276.63L222.28 1283.93L223.07 1291.4L223.86 1299L224.65 1306.74L225.44 1314.59L226.23 1322.54L227.02 1330.56L227.82 1338.66L228.61 1346.8L229.4 1354.97L230.19 1363.17L230.98 1371.36L231.77 1379.53L232.56 1387.68L233.35 1395.77L234.14 1403.8L234.94 1411.75L235.73 1419.6L236.52 1427.35L237.31 1434.96L238.1 1442.43L238.89 1449.75L239.68 1456.9L240.47 1463.86L241.26 1470.62L242.06 1477.17L242.85 1483.5L243.64 1489.59L244.43 1495.44L245.22 1501.02L246.01 1506.34L246.8 1511.37L247.59 1516.12L248.38 1520.57L249.17 1524.71L249.97 1528.54L250.76 1532.05L251.55 1535.23L252.34 1538.08L253.13 1540.6L253.92 1542.77L254.71 1544.6L255.5 1546.07L256.29 1547.2L257.09 1547.98L257.88 1548.41L258.67 1548.49L259.46 1548.21L260.25 1547.59L261.04 1546.61L261.83 1545.3L262.62 1543.64L263.41 1541.65L264.21 1539.32L265 1536.67L265.79 1533.7L266.58 1530.42L267.37 1526.83L268.16 1522.94L268.95 1518.77L269.74 1514.31L270.53 1509.59L271.33 1504.61L272.12 1499.37L272.91 1493.9L273.7 1488.21L274.49 1482.3L275.28 1476.18L276.07 1469.88L276.86 1463.41L277.65 1456.77L278.45 1449.98L279.24 1443.06L280.03 1436.02L280.82 1428.87L281.61 1421.63L282.4 1414.31L283.19 1406.94L283.98 1399.51L284.77 1392.06L285.57 1384.58L286.36 1377.11L287.15 1369.64L287.94 1362.21L288.73 1354.81L289.52 1347.48L290.31 1340.21L291.1 1333.03L291.89 1325.94L292.69 1318.97L293.48 1312.13L294.27 1305.42L295.06 1298.87L295.85 1292.48L296.64 1286.26L297.43 1280.23L298.22 1274.41L299.01 1268.79L299.81 1263.39L300.6 1258.22L301.39 1253.28L302.18 1248.6L302.97 1244.17L303.76 1240L304.55 1236.11L305.34 1232.49L306.13 1229.15L306.93 1226.1L307.72 1223.34L308.51 1220.88L309.3 1218.72L310.09 1216.86L310.88 1215.31L311.67 1214.07L312.46 1213.13L313.25 1212.5L314.05 1212.18L314.84 1212.17L315.63 1212.46L316.42 1213.06L317.21 1213.95L318 1215.15L318.79 1216.64L319.58 1218.41L320.37 1220.48L321.17 1222.82L321.96 1225.43L322.75 1228.31L323.54 1231.45L324.33 1234.85L325.12 1238.48L325.91 1242.35L326.7 1246.45L327.49 1250.77L328.28 1255.29L329.08 1260.01L329.87 1264.92L330.66 1270L331.45 1275.25L332.24 1280.65L333.03 1286.2L333.82 1291.88L334.61 1297.67L335.4 1303.58L336.2 1309.58L336.99 1315.66L337.78 1321.81L338.57 1328.02L339.36 1334.27L340.15 1340.55L340.94 1346.86L341.73 1353.17L342.52 1359.48L343.32 1365.77L344.11 1372.03L344.9 1378.24L345.69 1384.41L346.48 1390.5L347.27 1396.52L348.06 1402.45L348.85 1408.28L349.64 1414L350.44 1419.6L351.23 1425.06L352.02 1430.39L352.81 1435.56L353.6 1440.57L354.39 1445.41L355.18 1450.07L355.97 1454.55L356.76 1458.83L357.56 1462.91L358.35 1466.78L359.14 1470.44L359.93 1473.88L360.72 1477.09L361.51 1480.07L362.3 1482.81L363.09 1485.32L363.88 1487.58L364.68 1489.6L365.47 1491.37L366.26 1492.89L367.05 1494.16L367.84 1495.18L368.63 1495.94L369.42 1496.45L370.21 1496.71L371 1496.72L371.8 1496.48L372.59 1495.99L373.38 1495.26L374.17 1494.29L374.96 1493.08L375.75 1491.63L376.54 1489.96L377.33 1488.06L378.12 1485.94L378.92 1483.61L379.71 1481.06L380.5 1478.32L381.29 1475.38L382.08 1472.26L382.87 1468.95L383.66 1465.47L384.45 1461.83L385.24 1458.02L386.04 1454.08L386.83 1449.99L387.62 1445.77L388.41 1441.43L389.2 1436.98L389.99 1432.42L390.78 1427.78L391.57 1423.05L392.36 1418.25L393.16 1413.38L393.95 1408.46L394.74 1403.5L395.53 1398.5L396.32 1393.49L397.11 1388.46L397.9 1383.42L398.69 1378.39L399.48 1373.38L400.27 1368.4L401.07 1363.45L401.86 1358.55L402.65 1353.7L403.44 1348.92L404.23 1344.21L405.02 1339.58L405.81 1335.04L406.6 1330.59L407.39 1326.26L408.19 1322.04L408.98 1317.94L409.77 1313.97L410.56 1310.13L411.35 1306.44L412.14 1302.89L412.93 1299.5L413.72 1296.27L414.51 1293.2L415.31 1290.31L416.1 1287.58L416.89 1285.04L417.68 1282.68L418.47 1280.5L419.26 1278.51L420.05 1276.71L420.84 1275.1L421.63 1273.69L422.43 1272.48L423.22 1271.46L424.01 1270.64L424.8 1270.01L425.59 1269.59L426.38 1269.36L427.17 1269.32L427.96 1269.48L428.75 1269.83L429.55 1270.38L430.34 1271.11L431.13 1272.02L431.92 1273.12L432.71 1274.39L433.5 1275.84L434.29 1277.46L435.08 1279.25L435.87 1281.2L436.67 1283.3L437.46 1285.55L438.25 1287.95L439.04 1290.49L439.83 1293.17L440.62 1295.97L441.41 1298.89L442.2 1301.92L442.99 1305.06L443.79 1308.3L444.58 1311.64L445.37 1315.06L446.16 1318.56L446.95 1322.13L447.74 1325.77L448.53 1329.46L449.32 1333.2L450.11 1336.98L450.91 1340.79L451.7 1344.63L452.49 1348.48L453.28 1352.35L454.07 1356.22L454.86 1360.08L455.65 1363.93L456.44 1367.76L457.23 1371.56L458.03 1375.33L458.82 1379.05L459.61 1382.73L460.4 1386.35L461.19 1389.91L461.98 1393.4L462.77 1396.81L463.56 1400.15L464.35 1403.39L465.15 1406.55L465.94 1409.6L466.73 1412.55L467.52 1415.4L468.31 1418.13L469.1 1420.74L469.89 1423.24L470.68 1425.6L471.47 1427.84L472.27 1429.94L473.06 1431.91L473.85 1433.74L474.64 1435.43L475.43 1436.98L476.22 1438.38L477.01 1439.64L477.8 1440.75L478.59 1441.71L479.38 1442.52L480.18 1443.18L480.97 1443.69L481.76 1444.05L482.55 1444.26L483.34 1444.32L484.13 1444.23L484.92 1444L485.71 1443.63L486.5 1443.11L487.3 1442.45L488.09 1441.66L488.88 1440.73L489.67 1439.66L490.46 1438.47L491.25 1437.15L492.04 1435.71L492.83 1434.15L493.62 1432.48L494.42 1430.69L495.21 1428.81L496 1426.81L496.79 1424.73L497.58 1422.55L498.37 1420.28L499.16 1417.93L499.95 1415.51L500.74 1413.01L501.54 1410.45L502.33 1407.83L503.12 1405.16L503.91 1402.43L504.7 1399.67L505.49 1396.86L506.28 1394.03L507.07 1391.17L507.86 1388.29L508.66 1385.39L509.45 1382.49L510.24 1379.58L511.03 1376.68L511.82 1373.78L512.61 1370.9L513.4 1368.04L514.19 1365.21L514.98 1362.4L515.78 1359.63L516.57 1356.9L517.36 1354.22L518.15 1351.59L518.94 1349.01L519.73 1346.5L520.52 1344.05L521.31 1341.66L522.1 1339.35L522.9 1337.12L523.69 1334.97L524.48 1332.9L525.27 1330.91L526.06 1329.02L526.85 1327.22L527.64 1325.52L528.43 1323.92L529.22 1322.42L530.02 1321.02L530.81 1319.72L531.6 1318.53L532.39 1317.45L533.18 1316.48L533.97 1315.62L534.76 1314.87L535.55 1314.23L536.34 1313.7L537.14 1313.29L537.93 1312.98L538.72 1312.79L539.51 1312.71L540.3 1312.74L541.09 1312.88L541.88 1313.12L542.67 1313.48L543.46 1313.93L544.26 1314.49L545.05 1315.16L545.84 1315.92L546.63 1316.77L547.42 1317.73L548.21 1318.77L549 1319.9L549.79 1321.12L550.58 1322.42L551.38 1323.8L552.17 1325.26L552.96 1326.79L553.75 1328.39L554.54 1330.05L555.33 1331.78L556.12 1333.56L556.91 1335.4L557.7 1337.28L558.5 1339.21L559.29 1341.19L560.08 1343.2L560.87 1345.24L561.66 1347.32L562.45 1349.42L563.24 1351.53L564.03 1353.67L564.82 1355.81L565.61 1357.96L566.41 1360.12L567.2 1362.28L567.99 1364.42L568.78 1366.56L569.57 1368.69L570.36 1370.8L571.15 1372.89L571.94 1374.95L572.73 1376.98L573.53 1378.98L574.32 1380.94L575.11 1382.87L575.9 1384.74L576.69 1386.58L577.48 1388.36L578.27 1390.09L579.06 1391.76L579.85 1393.38L580.65 1394.93L581.44 1396.42L582.23 1397.84L583.02 1399.2L583.81 1400.48L584.6 1401.69L585.39 1402.83L586.18 1403.89L586.97 1404.88L587.77 1405.78L588.56 1406.61L589.35 1407.36L590.14 1408.02L590.93 1408.61L591.72 1409.11L592.51 1409.52L593.3 1409.86L594.09 1410.11L594.89 1410.28L595.68 1410.37L596.47 1410.38L597.26 1410.31L598.05 1410.15L598.84 1409.92L599.63 1409.61L600.42 1409.22L601.21 1408.76L602.01 1408.23L602.8 1407.62L603.59 1406.94L604.38 1406.19L605.17 1405.38L605.96 1404.51L606.75 1403.57L607.54 1402.57L608.33 1401.51L609.13 1400.41L609.92 1399.24L610.71 1398.03L611.5 1396.78L612.29 1395.48L613.08 1394.14L613.87 1392.76L614.66 1391.35L615.45 1389.9L616.25 1388.43L617.04 1386.93L617.83 1385.41L618.62 1383.87L619.41 1382.32L620.2 1380.75L620.99 1379.17L621.78 1377.59L622.57 1376L623.37 1374.41L624.16 1372.83L624.95 1371.25L625.74 1369.68L626.53 1368.12L627.32 1366.58L628.11 1365.05L628.9 1363.55L629.69 1362.07L630.49 1360.61L631.28 1359.19L632.07 1357.79L632.86 1356.43L633.65 1355.1L634.44 1353.82L635.23 1352.57L636.02 1351.37L636.81 1350.21L637.61 1349.09L638.4 1348.03L639.19 1347.01L639.98 1346.05L640.77 1345.14L641.56 1344.28L642.35 1343.48L643.14 1342.73L643.93 1342.05L644.72 1341.42L645.52 1340.85L646.31 1340.34L647.1 1339.88L647.89 1339.49L648.68 1339.16L649.47 1338.89L650.26 1338.68L651.05 1338.54L651.84 1338.45L652.64 1338.42L653.43 1338.45L654.22 1338.54L655.01 1338.69L655.8 1338.9L656.59 1339.16L657.38 1339.48L658.17 1339.86L658.96 1340.28L659.76 1340.76L660.55 1341.29L661.34 1341.87L662.13 1342.5L662.92 1343.17L663.71 1343.88L664.5 1344.64L665.29 1345.44L666.08 1346.28L666.88 1347.16L667.67 1348.06L668.46 1349.01L669.25 1349.98L670.04 1350.98L670.83 1352.01L671.62 1353.06L672.41 1354.13L673.2 1355.23L674 1356.34L674.79 1357.46L675.58 1358.6L676.37 1359.75L677.16 1360.9L677.95 1362.06L678.74 1363.23L679.53 1364.39L680.32 1365.56L681.12 1366.72L681.91 1367.87L682.7 1369.02L683.49 1370.15L684.28 1371.28L685.07 1372.39L685.86 1373.48L686.65 1374.55L687.44 1375.61L688.24 1376.64L689.03 1377.65L689.82 1378.63L690.61 1379.58L691.4 1380.51L692.19 1381.41L692.98 1382.27L693.77 1383.1L694.56 1383.89L695.36 1384.65L696.15 1385.37L696.94 1386.05L697.73 1386.7L698.52 1387.3L699.31 1387.86L700.1 1388.38L700.89 1388.86L701.68 1389.3L702.48 1389.69L703.27 1390.04L704.06 1390.34L704.85 1390.6L705.64 1390.81L706.43 1390.98L707.22 1391.11L708.01 1391.19L708.8 1391.23L709.6 1391.22L710.39 1391.17L711.18 1391.08L711.97 1390.94L712.76 1390.77L713.55 1390.55L714.34 1390.29L715.13 1389.99L715.92 1389.66L716.72 1389.28L717.51 1388.87L718.3 1388.43L719.09 1387.95L719.88 1387.44L720.67 1386.89L721.46 1386.32L722.25 1385.71L723.04 1385.08L723.83 1384.43L724.63 1383.75L725.42 1383.04L726.21 1382.32L727 1381.57L727.79 1380.81L728.58 1380.03L729.37 1379.23L730.16 1378.43L730.95 1377.61L731.75 1376.78L732.54 1375.94L733.33 1375.09L734.12 1374.25L734.91 1373.39L735.7 1372.54L736.49 1371.69L737.28 1370.84L738.07 1369.99L738.87 1369.15L739.66 1368.32L740.45 1367.49L741.24 1366.67L742.03 1365.87L742.82 1365.08L743.61 1364.3L744.4 1363.54L745.19 1362.79L745.99 1362.06L746.78 1361.36L747.57 1360.67L748.36 1360.01L749.15 1359.37L749.94 1358.75L750.73 1358.16L751.52 1357.59L752.31 1357.05L753.11 1356.54L753.9 1356.06L754.69 1355.61L755.48 1355.18L756.27 1354.79L757.06 1354.43L757.85 1354.1L758.64 1353.8L759.43 1353.53L760.23 1353.3L761.02 1353.09L761.81 1352.93L762.6 1352.79L763.39 1352.68L764.18 1352.61L764.97 1352.57L765.76 1352.56L766.55 1352.59L767.35 1352.64L768.14 1352.73L768.93 1352.85L769.72 1353L770.51 1353.17L771.3 1353.38L772.09 1353.61L772.88 1353.88L773.67 1354.17L774.47 1354.48L775.26 1354.82L776.05 1355.19L776.84 1355.58L777.63 1355.99L778.42 1356.42L779.21 1356.88L780 1357.35L780.79 1357.84L781.59 1358.35L782.38 1358.87L783.17 1359.41L783.96 1359.97L784.75 1360.53L785.54 1361.11L786.33 1361.7L787.12 1362.29L787.91 1362.9L788.71 1363.51L789.5 1364.12L790.29 1364.74L791.08 1365.36L791.87 1365.99L792.66 1366.61L793.45 1367.23L794.24 1367.85L795.03 1368.47L795.83 1369.08L796.62 1369.69L797.41 1370.29L798.2 1370.88L798.99 1371.47L799.78 1372.04L800.57 1372.6L801.36 1373.15L802.15 1373.69L802.94 1374.21L803.74 1374.72L804.53 1375.21L805.32 1375.69L806.11 1376.14L806.9 1376.58L807.69 1377L808.48 1377.41L809.27 1377.79L810.06 1378.15L810.86 1378.49L811.65 1378.81L812.44 1379.1L813.23 1379.38L814.02 1379.63L814.81 1379.86L815.6 1380.06L816.39 1380.24L817.18 1380.4L817.98 1380.53L818.77 1380.64L819.56 1380.73L820.35 1380.79L821.14 1380.83L821.93 1380.84L822.72 1380.84L823.51 1380.8L824.3 1380.75L825.1 1380.67L825.89 1380.57L826.68 1380.45L827.47 1380.31L828.26 1380.15L829.05 1379.96L829.84 1379.76L830.63 1379.53L831.42 1379.29L832.22 1379.03L833.01 1378.75L833.8 1378.46L834.59 1378.15L835.38 1377.82L836.17 1377.48L836.96 1377.13L837.75 1376.76L838.54 1376.38L839.34 1375.99L840.13 1375.59L840.92 1375.18L841.71 1374.76L842.5 1374.34L843.29 1373.9L844.08 1373.47L844.87 1373.02L845.66 1372.57L846.46 1372.12L847.25 1371.67L848.04 1371.21L848.83 1370.76L849.62 1370.3L850.41 1369.85L851.2 1369.39L851.99 1368.94L852.78 1368.5L853.58 1368.06L854.37 1367.62L855.16 1367.19L855.95 1366.77L856.74 1366.36L857.53 1365.95L858.32 1365.56L859.11 1365.17L859.9 1364.79L860.7 1364.43L861.49 1364.08L862.28 1363.74L863.07 1363.41L863.86 1363.1L864.65 1362.8L865.44 1362.51L866.23 1362.24L867.02 1361.99L867.82 1361.75L868.61 1361.53L869.4 1361.32L870.19 1361.13L870.98 1360.96L871.77 1360.8L872.56 1360.66L873.35 1360.54L874.14 1360.44L874.94 1360.35L875.73 1360.28L876.52 1360.23L877.31 1360.19L878.1 1360.17L878.89 1360.17L879.68 1360.19L880.47 1360.22L881.26 1360.27L882.05 1360.34L882.85 1360.42L883.64 1360.52L884.43 1360.63L885.22 1360.76L886.01 1360.91L886.8 1361.06L887.59 1361.23L888.38 1361.42L889.17 1361.62L889.97 1361.83L890.76 1362.05L891.55 1362.28L892.34 1362.53L893.13 1362.78L893.92 1363.05L894.71 1363.32L895.5 1363.6L896.29 1363.89L897.09 1364.19L897.88 1364.49L898.67 1364.8L899.46 1365.12L900.25 1365.44L901.04 1365.76L901.83 1366.09L902.62 1366.41L903.41 1366.75L904.21 1367.08L905 1367.41L905.79 1367.74L906.58 1368.08L907.37 1368.41L908.16 1368.74L908.95 1369.06L909.74 1369.39L910.53 1369.71L911.33 1370.02L912.12 1370.33L912.91 1370.64L913.7 1370.94L914.49 1371.23L915.28 1371.51L916.07 1371.79L916.86 1372.06L917.65 1372.32L918.45 1372.57L919.24 1372.82L920.03 1373.05L920.82 1373.27L921.61 1373.48L922.4 1373.69L923.19 1373.88L923.98 1374.05L924.77 1374.22L925.57 1374.38L926.36 1374.52L927.15 1374.65L927.94 1374.77L928.73 1374.88L929.52 1374.97L930.31 1375.05L931.1 1375.12L931.89 1375.18L932.69 1375.22L933.48 1375.25L934.27 1375.27L935.06 1375.28L935.85 1375.27L936.64 1375.25L937.43 1375.22L938.22 1375.17L939.01 1375.12L939.81 1375.05L940.6 1374.97L941.39 1374.88L942.18 1374.78L942.97 1374.67L943.76 1374.55L944.55 1374.42L945.34 1374.28L946.13 1374.13L946.93 1373.97L947.72 1373.8L948.51 1373.63L949.3 1373.44L950.09 1373.25L950.88 1373.06L951.67 1372.85L952.46 1372.64L953.25 1372.43L954.05 1372.21L954.84 1371.99L955.63 1371.76L956.42 1371.52L957.21 1371.29L958 1371.05L958.79 1370.81L959.58 1370.57L960.37 1370.33L961.16 1370.08L961.96 1369.84L962.75 1369.6L963.54 1369.36L964.33 1369.11L965.12 1368.88L965.91 1368.64L966.7 1368.4L967.49 1368.17L968.28 1367.94L969.08 1367.72L969.87 1367.5L970.66 1367.28L971.45 1367.07L972.24 1366.87L973.03 1366.67L973.82 1366.48L974.61 1366.29L975.4 1366.11L976.2 1365.94L976.99 1365.77L977.78 1365.61L978.57 1365.46L979.36 1365.32L980.15 1365.19L980.94 1365.06L981.73 1364.94L982.52 1364.83L983.32 1364.73L984.11 1364.64L984.9 1364.56L985.69 1364.49L986.48 1364.43L987.27 1364.37L988.06 1364.33L988.85 1364.29L989.64 1364.27L990.44 1364.25L991.23 1364.24L992.02 1364.24L992.81 1364.25L993.6 1364.27" fill="none" stroke="#000" stroke-width="2.6" stroke-linejoin="round"/>
<path d="M205.66 1354.94l-9.5 15.39h19zM221.49 1338.43l-9.5 15.39h19zM237.31 1322.23l-9.5 15.39h19zM253.13 1306.55l-9.5 15.39h19zM268.95 1291.62l-9.5 15.39h19zM284.77 1277.58l-9.5 15.39h19zM300.6 1264.56l-9.5 15.39h19zM316.42 1252.63l-9.5 15.39h19zM332.24 1241.82l-9.5 15.39h19zM348.06 1232.12l-9.5 15.39h19zM363.88 1223.49l-9.5 15.39h19zM379.71 1215.89l-9.5 15.39h19zM395.53 1209.23l-9.5 15.39h19zM411.35 1203.44l-9.5 15.39h19zM427.17 1198.42l-9.5 15.39h19zM442.99 1194.1l-9.5 15.39h19zM458.82 1190.4l-9.5 15.39h19zM474.64 1187.23l-9.5 15.39h19zM490.46 1184.53l-9.5 15.39h19zM506.28 1182.23l-9.5 15.39h19zM522.1 1180.28l-9.5 15.39h19zM537.93 1178.63l-9.5 15.39h19zM553.75 1177.24l-9.5 15.39h19zM569.57 1176.06l-9.5 15.39h19zM585.39 1175.06l-9.5 15.39h19zM601.21 1174.22l-9.5 15.39h19zM617.04 1173.52l-9.5 15.39h19zM632.86 1172.93l-9.5 15.39h19zM648.68 1172.43l-9.5 15.39h19zM664.5 1172.01l-9.5 15.39h19zM680.32 1171.65l-9.5 15.39h19zM696.15 1171.36l-9.5 15.39h19zM711.97 1171.11l-9.5 15.39h19zM727.79 1170.9l-9.5 15.39h19zM743.61 1170.72l-9.5 15.39h19zM759.43 1170.58l-9.5 15.39h19zM775.26 1170.45l-9.5 15.39h19zM791.08 1170.35l-9.5 15.39h19zM806.9 1170.26l-9.5 15.39h19zM822.72 1170.19l-9.5 15.39h19zM838.54 1170.13l-9.5 15.39h19zM854.37 1170.08l-9.5 15.39h19zM870.19 1170.03l-9.5 15.39h19zM886.01 1170l-9.5 15.39h19zM901.83 1169.97l-9.5 15.39h19zM917.65 1169.94l-9.5 15.39h19zM933.48 1169.92l-9.5 15.39h19zM949.3 1169.9l-9.5 15.39h19zM965.12 1169.89l-9.5 15.39h19zM980.94 1169.88l-9.5 15.39h19zM996.76 1169.86l-9.5 15.39h19zM1012.59 1169.86l-9.5 15.39h19z" fill="#2a3d4e" stroke="none"/>
<path d="M205.66 1346.55l-9.5 -15.39h19zM211.99 1284.73l-9.5 -15.39h19zM218.32 1234.85l-9.5 -15.39h19zM224.65 1203.14l-9.5 -15.39h19zM230.98 1193.45l-9.5 -15.39h19zM237.31 1206.77l-9.5 -15.39h19zM243.64 1241.15l-9.5 -15.39h19zM249.97 1292l-9.5 -15.39h19zM256.29 1352.67l-9.5 -15.39h19zM262.62 1415.4l-9.5 -15.39h19zM268.95 1472.34l-9.5 -15.39h19zM275.28 1516.53l-9.5 -15.39h19zM281.61 1542.81l-9.5 -15.39h19zM287.94 1548.41l-9.5 -15.39h19zM294.27 1533.26l-9.5 -15.39h19zM300.6 1499.88l-9.5 -15.39h19zM306.93 1453.01l-9.5 -15.39h19zM313.25 1398.9l-9.5 -15.39h19zM319.58 1344.49l-9.5 -15.39h19zM325.91 1296.48l-9.5 -15.39h19zM332.24 1260.51l-9.5 -15.39h19zM338.57 1240.5l-9.5 -15.39h19zM344.9 1238.2l-9.5 -15.39h19zM351.23 1253.1l-9.5 -15.39h19zM357.56 1282.59l-9.5 -15.39h19zM363.88 1322.39l-9.5 -15.39h19zM370.21 1367.13l-9.5 -15.39h19zM376.54 1411.13l-9.5 -15.39h19zM382.87 1449.05l-9.5 -15.39h19zM389.2 1476.62l-9.5 -15.39h19zM395.53 1491.02l-9.5 -15.39h19zM401.86 1491.21l-9.5 -15.39h19zM408.19 1477.95l-9.5 -15.39h19zM414.51 1453.59l-9.5 -15.39h19zM420.84 1421.69l-9.5 -15.39h19zM427.17 1386.56l-9.5 -15.39h19zM433.5 1352.62l-9.5 -15.39h19zM439.83 1323.9l-9.5 -15.39h19zM446.16 1303.56l-9.5 -15.39h19zM452.49 1293.57l-9.5 -15.39h19zM458.82 1294.5l-9.5 -15.39h19zM465.15 1305.58l-9.5 -15.39h19zM471.47 1324.86l-9.5 -15.39h19zM477.8 1349.51l-9.5 -15.39h19zM484.13 1376.23l-9.5 -15.39h19zM490.46 1401.67l-9.5 -15.39h19zM496.79 1422.87l-9.5 -15.39h19zM503.12 1437.53l-9.5 -15.39h19zM509.45 1444.31l-9.5 -15.39h19zM515.78 1442.9l-9.5 -15.39h19zM522.1 1433.98l-9.5 -15.39h19zM528.43 1419.12l-9.5 -15.39h19zM534.76 1400.47l-9.5 -15.39h19zM541.09 1380.52l-9.5 -15.39h19zM547.42 1361.76l-9.5 -15.39h19zM553.75 1346.34l-9.5 -15.39h19zM560.08 1335.91l-9.5 -15.39h19zM566.41 1331.39l-9.5 -15.39h19zM572.73 1332.93l-9.5 -15.39h19zM579.06 1339.95l-9.5 -15.39h19zM585.39 1351.24l-9.5 -15.39h19zM591.72 1365.17l-9.5 -15.39h19zM598.05 1379.91l-9.5 -15.39h19zM604.38 1393.61l-9.5 -15.39h19zM610.71 1404.73l-9.5 -15.39h19zM617.04 1412.09l-9.5 -15.39h19zM623.37 1415.06l-9.5 -15.39h19zM629.69 1413.58l-9.5 -15.39h19zM636.02 1408.13l-9.5 -15.39h19zM642.35 1399.63l-9.5 -15.39h19zM648.68 1389.29l-9.5 -15.39h19zM655.01 1378.47l-9.5 -15.39h19zM661.34 1368.52l-9.5 -15.39h19zM667.67 1360.54l-9.5 -15.39h19zM674 1355.38l-9.5 -15.39h19zM680.32 1353.46l-9.5 -15.39h19zM686.65 1354.78l-9.5 -15.39h19zM692.98 1358.98l-9.5 -15.39h19zM699.31 1365.35l-9.5 -15.39h19zM705.64 1372.99l-9.5 -15.39h19zM711.97 1380.9l-9.5 -15.39h19zM718.3 1388.11l-9.5 -15.39h19zM724.63 1393.81l-9.5 -15.39h19zM730.95 1397.42l-9.5 -15.39h19zM737.28 1398.64l-9.5 -15.39h19zM743.61 1397.5l-9.5 -15.39h19zM749.94 1394.29l-9.5 -15.39h19zM756.27 1389.53l-9.5 -15.39h19zM762.6 1383.89l-9.5 -15.39h19zM768.93 1378.12l-9.5 -15.39h19zM775.26 1372.91l-9.5 -15.39h19zM781.59 1368.85l-9.5 -15.39h19zM787.91 1366.34l-9.5 -15.39h19zM794.24 1365.57l-9.5 -15.39h19zM800.57 1366.53l-9.5 -15.39h19zM806.9 1368.99l-9.5 -15.39h19zM813.23 1372.53l-9.5 -15.39h19zM819.56 1376.68l-9.5 -15.39h19zM825.89 1380.88l-9.5 -15.39h19zM832.22 1384.64l-9.5 -15.39h19zM838.54 1387.54l-9.5 -15.39h19zM844.87 1389.28l-9.5 -15.39h19zM851.2 1389.74l-9.5 -15.39h19zM857.53 1388.95l-9.5 -15.39h19zM863.86 1387.08l-9.5 -15.39h19zM870.19 1384.44l-9.5 -15.39h19zM876.52 1381.4l-9.5 -15.39h19zM882.85 1378.34l-9.5 -15.39h19zM889.17 1375.63l-9.5 -15.39h19zM895.5 1373.57l-9.5 -15.39h19zM901.83 1372.37l-9.5 -15.39h19zM908.16 1372.1l-9.5 -15.39h19zM914.49 1372.75l-9.5 -15.39h19zM920.82 1374.16l-9.5 -15.39h19zM927.15 1376.12l-9.5 -15.39h19zM933.48 1378.35l-9.5 -15.39h19zM939.81 1380.58l-9.5 -15.39h19zM946.13 1382.53l-9.5 -15.39h19zM952.46 1383.99l-9.5 -15.39h19zM958.79 1384.82l-9.5 -15.39h19zM965.12 1384.96l-9.5 -15.39h19zM971.45 1384.44l-9.5 -15.39h19zM977.78 1383.38l-9.5 -15.39h19zM984.11 1381.92l-9.5 -15.39h19zM990.44 1380.28l-9.5 -15.39h19zM996.76 1378.66l-9.5 -15.39h19zM1003.09 1377.26l-9.5 -15.39h19zM1009.42 1376.23l-9.5 -15.39h19z" fill="#7ab0de" stroke="none"/>
<path d="M205.66 1173.89L214.7 1180.45L211.25 1191.08L200.08 1191.08L196.63 1180.45zM211.99 1196.84L221.03 1203.4L217.58 1214.03L206.41 1214.03L202.96 1203.4zM218.32 1239.79L227.36 1246.36L223.91 1256.98L212.74 1256.98L209.29 1246.36zM224.65 1297.24L233.69 1303.8L230.23 1314.43L219.07 1314.43L215.62 1303.8zM230.98 1361.86L240.01 1368.42L236.56 1379.04L225.4 1379.04L221.94 1368.42zM237.31 1425.46L246.34 1432.03L242.89 1442.65L231.72 1442.65L228.27 1432.03zM243.64 1480.09L252.67 1486.66L249.22 1497.28L238.05 1497.28L234.6 1486.66zM249.97 1519.04L259 1525.61L255.55 1536.23L244.38 1536.23L240.93 1525.61zM256.29 1537.7L265.33 1544.27L261.88 1554.89L250.71 1554.89L247.26 1544.27zM262.62 1534.14L271.66 1540.71L268.21 1551.33L257.04 1551.33L253.59 1540.71zM268.95 1509.27L277.99 1515.83L274.54 1526.45L263.37 1526.45L259.92 1515.83zM275.28 1466.68L284.32 1473.25L280.87 1483.87L269.7 1483.87L266.25 1473.25zM281.61 1412.13L290.65 1418.69L287.19 1429.32L276.03 1429.32L272.57 1418.69zM287.94 1352.71L296.97 1359.27L293.52 1369.89L282.35 1369.89L278.9 1359.27zM294.27 1295.92L303.3 1302.49L299.85 1313.11L288.68 1313.11L285.23 1302.49zM300.6 1248.72L309.63 1255.28L306.18 1265.9L295.01 1265.9L291.56 1255.28zM306.93 1216.6L315.96 1223.16L312.51 1233.78L301.34 1233.78L297.89 1223.16zM313.25 1203L322.29 1209.57L318.84 1220.19L307.67 1220.19L304.22 1209.57zM319.58 1208.91L328.62 1215.48L325.17 1226.1L314 1226.1L310.55 1215.48zM325.91 1232.85L334.95 1239.42L331.5 1250.04L320.33 1250.04L316.88 1239.42zM332.24 1271.15L341.28 1277.72L337.82 1288.34L326.66 1288.34L323.21 1277.72zM338.57 1318.52L347.6 1325.08L344.15 1335.7L332.99 1335.7L329.53 1325.08zM344.9 1368.74L353.93 1375.31L350.48 1385.93L339.31 1385.93L335.86 1375.31zM351.23 1415.56L360.26 1422.13L356.81 1432.75L345.64 1432.75L342.19 1422.13zM357.56 1453.41L366.59 1459.97L363.14 1470.59L351.97 1470.59L348.52 1459.97zM363.88 1478.08L372.92 1484.65L369.47 1495.27L358.3 1495.27L354.85 1484.65zM370.21 1487.21L379.25 1493.78L375.8 1504.4L364.63 1504.4L361.18 1493.78zM376.54 1480.46L385.58 1487.02L382.13 1497.64L370.96 1497.64L367.51 1487.02zM382.87 1459.45L391.91 1466.01L388.45 1476.64L377.29 1476.64L373.84 1466.01zM389.2 1427.48L398.23 1434.04L394.78 1444.66L383.62 1444.66L380.16 1434.04zM395.53 1389L404.56 1395.57L401.11 1406.19L389.94 1406.19L386.49 1395.57zM401.86 1349.05L410.89 1355.61L407.44 1366.23L396.27 1366.23L392.82 1355.61zM408.19 1312.54L417.22 1319.1L413.77 1329.72L402.6 1329.72L399.15 1319.1zM414.51 1283.7L423.55 1290.27L420.1 1300.89L408.93 1300.89L405.48 1290.27zM420.84 1265.6L429.88 1272.17L426.43 1282.79L415.26 1282.79L411.81 1272.17zM427.17 1259.82L436.21 1266.39L432.76 1277.01L421.59 1277.01L418.14 1266.39zM433.5 1266.34L442.54 1272.91L439.09 1283.53L427.92 1283.53L424.47 1272.91zM439.83 1283.67L448.87 1290.23L445.41 1300.85L434.25 1300.85L430.79 1290.23zM446.16 1309.06L455.19 1315.62L451.74 1326.25L440.57 1326.25L437.12 1315.62zM452.49 1338.98L461.52 1345.55L458.07 1356.17L446.9 1356.17L443.45 1345.55zM458.82 1369.55L467.85 1376.12L464.4 1386.74L453.23 1386.74L449.78 1376.12zM465.15 1397.05L474.18 1403.61L470.73 1414.23L459.56 1414.23L456.11 1403.61zM471.47 1418.34L480.51 1424.9L477.06 1435.52L465.89 1435.52L462.44 1424.9zM477.8 1431.25L486.84 1437.81L483.39 1448.43L472.22 1448.43L468.77 1437.81zM484.13 1434.73L493.17 1441.3L489.72 1451.92L478.55 1451.92L475.1 1441.3zM490.46 1428.97L499.5 1435.53L496.04 1446.16L484.88 1446.16L481.43 1435.53zM496.79 1415.23L505.82 1421.79L502.37 1432.41L491.21 1432.41L487.75 1421.79zM503.12 1395.66L512.15 1402.22L508.7 1412.84L497.53 1412.84L494.08 1402.22zM509.45 1372.99L518.48 1379.55L515.03 1390.17L503.86 1390.17L500.41 1379.55zM515.78 1350.13L524.81 1356.7L521.36 1367.32L510.19 1367.32L506.74 1356.7zM522.1 1329.85L531.14 1336.42L527.69 1347.04L516.52 1347.04L513.07 1336.42zM528.43 1314.42L537.47 1320.98L534.02 1331.6L522.85 1331.6L519.4 1320.98zM534.76 1305.37L543.8 1311.93L540.35 1322.55L529.18 1322.55L525.73 1311.93zM541.09 1303.38L550.13 1309.94L546.67 1320.56L535.51 1320.56L532.06 1309.94zM547.42 1308.23L556.45 1314.79L553 1325.41L541.84 1325.41L538.38 1314.79zM553.75 1318.89L562.78 1325.45L559.33 1336.07L548.16 1336.07L544.71 1325.45zM560.08 1333.7L569.11 1340.26L565.66 1350.89L554.49 1350.89L551.04 1340.26zM566.41 1350.62L575.44 1357.18L571.99 1367.81L560.82 1367.81L557.37 1357.18zM572.73 1367.48L581.77 1374.04L578.32 1384.67L567.15 1384.67L563.7 1374.04zM579.06 1382.26L588.1 1388.83L584.65 1399.45L573.48 1399.45L570.03 1388.83zM585.39 1393.33L594.43 1399.9L590.98 1410.52L579.81 1410.52L576.36 1399.9zM591.72 1399.61L600.76 1406.17L597.31 1416.79L586.14 1416.79L582.69 1406.17zM598.05 1400.65L607.09 1407.22L603.63 1417.84L592.47 1417.84L589.01 1407.22zM604.38 1396.69L613.41 1403.26L609.96 1413.88L598.79 1413.88L595.34 1403.26zM610.71 1388.53L619.74 1395.1L616.29 1405.72L605.12 1405.72L601.67 1395.1zM617.04 1377.43L626.07 1384L622.62 1394.62L611.45 1394.62L608 1384zM623.37 1364.91L632.4 1371.48L628.95 1382.1L617.78 1382.1L614.33 1371.48zM629.69 1352.57L638.73 1359.13L635.28 1369.75L624.11 1369.75L620.66 1359.13zM636.02 1341.87L645.06 1348.43L641.61 1359.05L630.44 1359.05L626.99 1348.43zM642.35 1333.98L651.39 1340.54L647.94 1351.17L636.77 1351.17L633.32 1340.54zM648.68 1329.66L657.72 1336.23L654.26 1346.85L643.1 1346.85L639.65 1336.23zM655.01 1329.19L664.04 1335.76L660.59 1346.38L649.43 1346.38L645.97 1335.76zM661.34 1332.37L670.37 1338.93L666.92 1349.55L655.75 1349.55L652.3 1338.93zM667.67 1338.56L676.7 1345.13L673.25 1355.75L662.08 1355.75L658.63 1345.13zM674 1346.84L683.03 1353.4L679.58 1364.02L668.41 1364.02L664.96 1353.4zM680.32 1356.06L689.36 1362.62L685.91 1373.24L674.74 1373.24L671.29 1362.62zM686.65 1365.05L695.69 1371.62L692.24 1382.24L681.07 1382.24L677.62 1371.62zM692.98 1372.77L702.02 1379.33L698.57 1389.95L687.4 1389.95L683.95 1379.33zM699.31 1378.36L708.35 1384.93L704.89 1395.55L693.73 1395.55L690.28 1384.93zM705.64 1381.31L714.67 1387.88L711.22 1398.5L700.06 1398.5L696.6 1387.88zM711.97 1381.44L721 1388.01L717.55 1398.63L706.38 1398.63L702.93 1388.01zM718.3 1378.93L727.33 1385.49L723.88 1396.11L712.71 1396.11L709.26 1385.49zM724.63 1374.25L733.66 1380.81L730.21 1391.43L719.04 1391.43L715.59 1380.81zM730.95 1368.11L739.99 1374.67L736.54 1385.29L725.37 1385.29L721.92 1374.67zM737.28 1361.34L746.32 1367.9L742.87 1378.52L731.7 1378.52L728.25 1367.9zM743.61 1354.8L752.65 1361.36L749.2 1371.98L738.03 1371.98L734.58 1361.36zM749.94 1349.25L758.98 1355.81L755.53 1366.44L744.36 1366.44L740.91 1355.81zM756.27 1345.29L765.31 1351.86L761.85 1362.48L750.69 1362.48L747.23 1351.86zM762.6 1343.29L771.63 1349.85L768.18 1360.47L757.01 1360.47L753.56 1349.85zM768.93 1343.35L777.96 1349.91L774.51 1360.53L763.34 1360.53L759.89 1349.91zM775.26 1345.32L784.29 1351.89L780.84 1362.51L769.67 1362.51L766.22 1351.89zM781.59 1348.85L790.62 1355.41L787.17 1366.03L776 1366.03L772.55 1355.41zM787.91 1353.4L796.95 1359.96L793.5 1370.58L782.33 1370.58L778.88 1359.96zM794.24 1358.35L803.28 1364.92L799.83 1375.54L788.66 1375.54L785.21 1364.92zM800.57 1363.1L809.61 1369.67L806.16 1380.29L794.99 1380.29L791.54 1369.67zM806.9 1367.08L815.94 1373.65L812.48 1384.27L801.32 1384.27L797.87 1373.65zM813.23 1369.88L822.26 1376.44L818.81 1387.06L807.65 1387.06L804.19 1376.44zM819.56 1371.23L828.59 1377.79L825.14 1388.41L813.97 1388.41L810.52 1377.79zM825.89 1371.07L834.92 1377.64L831.47 1388.26L820.3 1388.26L816.85 1377.64zM832.22 1369.53L841.25 1376.1L837.8 1386.72L826.63 1386.72L823.18 1376.1zM838.54 1366.88L847.58 1373.45L844.13 1384.07L832.96 1384.07L829.51 1373.45zM844.87 1363.52L853.91 1370.09L850.46 1380.71L839.29 1380.71L835.84 1370.09zM851.2 1359.89L860.24 1366.46L856.79 1377.08L845.62 1377.08L842.17 1366.46zM857.53 1356.45L866.57 1363.02L863.11 1373.64L851.95 1373.64L848.5 1363.02zM863.86 1353.6L872.89 1360.16L869.44 1370.78L858.28 1370.78L854.82 1360.16zM870.19 1351.63L879.22 1358.2L875.77 1368.82L864.6 1368.82L861.15 1358.2zM876.52 1350.73L885.55 1357.29L882.1 1367.91L870.93 1367.91L867.48 1357.29zM882.85 1350.92L891.88 1357.49L888.43 1368.11L877.26 1368.11L873.81 1357.49zM889.17 1352.12L898.21 1358.68L894.76 1369.3L883.59 1369.3L880.14 1358.68zM895.5 1354.1L904.54 1360.67L901.09 1371.29L889.92 1371.29L886.47 1360.67zM901.83 1356.59L910.87 1363.15L907.42 1373.77L896.25 1373.77L892.8 1363.15zM908.16 1359.24L917.2 1365.8L913.75 1376.42L902.58 1376.42L899.13 1365.8zM914.49 1361.73L923.53 1368.29L920.07 1378.91L908.91 1378.91L905.45 1368.29zM920.82 1363.77L929.85 1370.34L926.4 1380.96L915.23 1380.96L911.78 1370.34zM927.15 1365.15L936.18 1371.72L932.73 1382.34L921.56 1382.34L918.11 1371.72zM933.48 1365.75L942.51 1372.32L939.06 1382.94L927.89 1382.94L924.44 1372.32zM939.81 1365.55L948.84 1372.12L945.39 1382.74L934.22 1382.74L930.77 1372.12zM946.13 1364.63L955.17 1371.19L951.72 1381.82L940.55 1381.82L937.1 1371.19zM952.46 1363.14L961.5 1369.71L958.05 1380.33L946.88 1380.33L943.43 1369.71zM958.79 1361.31L967.83 1367.88L964.38 1378.5L953.21 1378.5L949.76 1367.88zM965.12 1359.38L974.16 1365.94L970.7 1376.56L959.54 1376.56L956.09 1365.94zM971.45 1357.57L980.48 1364.14L977.03 1374.76L965.87 1374.76L962.41 1364.14zM977.78 1356.11L986.81 1362.68L983.36 1373.3L972.19 1373.3L968.74 1362.68zM984.11 1355.14L993.14 1361.71L989.69 1372.33L978.52 1372.33L975.07 1361.71zM990.44 1354.75L999.47 1361.31L996.02 1371.94L984.85 1371.94L981.4 1361.31zM996.76 1354.94L1005.8 1361.5L1002.35 1372.12L991.18 1372.12L987.73 1361.5zM1003.09 1355.65L1012.13 1362.21L1008.68 1372.83L997.51 1372.83L994.06 1362.21zM1009.42 1356.76L1018.46 1363.32L1015.01 1373.94L1003.84 1373.94L1000.39 1363.32z" fill="#c0832b" stroke="none"/>
<rect x="183.6" y="1161.65" width="829" height="414.4" fill="none" stroke="#000" stroke-width="2.1"/>
<path d="M183.6 1180.45h-12M183.6 1274.68h-12M183.6 1368.9h-12M183.6 1463.12h-12M183.6 1557.35h-12M183.6 1227.56h-6.5M183.6 1321.79h-6.5M183.6 1416.01h-6.5M183.6 1510.24h-6.5M202.5 1576.05v12M360.72 1576.05v12M518.94 1576.05v12M677.16 1576.05v12M835.38 1576.05v12M993.6 1576.05v12M281.61 1576.05v6.5M439.83 1576.05v6.5M598.05 1576.05v6.5M756.27 1576.05v6.5M914.49 1576.05v6.5" stroke="#000" stroke-width="1.2" fill="none"/>
<text transform="translate(151.3 1191.8) rotate(0.05) scale(1 1.04)" font-size="34" stroke-width="0.3" text-anchor="end">1.0</text>
<text transform="translate(151.3 1286.03) rotate(0.05) scale(1 1.04)" font-size="34" stroke-width="0.3" text-anchor="end">0.5</text>
<text transform="translate(151.3 1380.25) rotate(0.05) scale(1 1.04)" font-size="34" stroke-width="0.3" text-anchor="end">0.0</text>
<text transform="translate(151.3 1474.47) rotate(0.05) scale(1 1.04)" font-size="34" stroke-width="0.3" text-anchor="end">-0.5</text>
<text transform="translate(151.3 1568.7) rotate(0.05) scale(1 1.04)" font-size="34" stroke-width="0.3" text-anchor="end">-1.0</text>
<text transform="translate(207.6 1633.41) rotate(0.05) scale(1 1.04)" font-size="34" stroke-width="0.3" text-anchor="middle">0</text>
<text transform="translate(365.82 1633.41) rotate(0.05) scale(1 1.04)" font-size="34" stroke-width="0.3" text-anchor="middle">50</text>
<text transform="translate(524.04 1633.41) rotate(0.05) scale(1 1.04)" font-size="34" stroke-width="0.3" text-anchor="middle">100</text>
<text transform="translate(682.26 1633.41) rotate(0.05) scale(1 1.04)" font-size="34" stroke-width="0.3" text-anchor="middle">150</text>
<text transform="translate(840.48 1633.41) rotate(0.05) scale(1 1.04)" font-size="34" stroke-width="0.3" text-anchor="middle">200</text>
<text transform="translate(998.7 1633.41) rotate(0.05) scale(1 1.04)" font-size="34" stroke-width="0.3" text-anchor="middle">250</text>
<text transform="translate(598.4 1683.55) rotate(0.05)" text-anchor="middle">Time (ps)</text>
<text transform="translate(56.2 1368.6) rotate(-89.95)" font-size="34" text-anchor="middle">Magnetisation (m/m<tspan font-size="27.2" dy="10.4">s</tspan><tspan font-size="34" dy="-10.4">)</tspan></text>
<text transform="translate(-2.2 1174.9) rotate(0.05)" font-size="56" font-weight="bold" stroke="none">c</text>
<path d="M879 1470.95H972.3" stroke="#2a3d4e" stroke-width="2.85" fill="none"/>
<path d="M925.4 1460.31l-9.5 15.39h19z" fill="#2a3d4e" stroke="none"/>
<text transform="translate(817.6 1478.95) rotate(0.05)" font-size="33.6" font-style="italic">m<tspan font-size="25.3" dx="0.6" dy="9.9">x</tspan></text>
<path d="M879 1508.15H972.3" stroke="#7ab0de" stroke-width="2.85" fill="none"/>
<path d="M925.4 1518.79l-9.5 -15.39h19z" fill="#7ab0de" stroke="none"/>
<text transform="translate(817.6 1516.15) rotate(0.05)" font-size="33.6" font-style="italic">m<tspan font-size="25.3" dx="0.6" dy="9.9">y</tspan></text>
<path d="M879 1545.55H972.3" stroke="#c0832b" stroke-width="2.85" fill="none"/>
<path d="M925.4 1536.05L934.44 1542.61L930.98 1553.24L919.82 1553.24L916.36 1542.61z" fill="#c0832b" stroke="none"/>
<text transform="translate(817.6 1553.55) rotate(0.05)" font-size="33.6" font-style="italic">m<tspan font-size="25.3" dx="0.6" dy="9.9">z</tspan></text>
</g>
</svg></body></html>
